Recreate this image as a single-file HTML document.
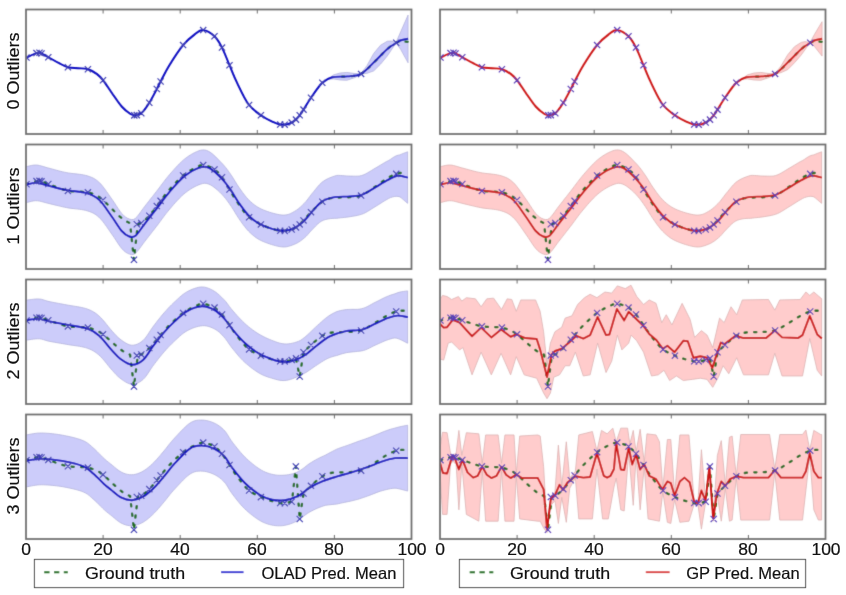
<!DOCTYPE html>
<html><head><meta charset="utf-8"><style>
html,body{margin:0;padding:0;background:#fff;}
body{width:846px;height:595px;position:relative;overflow:hidden;font-family:"Liberation Sans",sans-serif;color:#000;-webkit-text-stroke:0.2px #111;}
#wrap{position:absolute;left:0;top:0;width:846px;height:595px;filter:url(#bl);}
svg.ov{position:absolute;left:0;top:0;}
#txt{position:absolute;left:0;top:0;width:846px;height:595px;will-change:transform;color:#111;}
.yl{position:absolute;left:13.2px;font-size:16.5px;line-height:16px;white-space:nowrap;transform:translate(-50%,-50%) rotate(-90deg) scaleX(1.09);}
.tl{position:absolute;top:541.4px;font-size:16.5px;line-height:16px;transform:translateX(-50%) scaleX(1.06);}
.lg{position:absolute;top:559.1px;height:29px;border:1px solid #222;background:#fff;box-sizing:border-box;}
.lt{position:absolute;top:564.5px;font-size:16.5px;line-height:16px;white-space:nowrap;transform-origin:0 50%;transform:scaleX(1.105);}
</style></head><body>
<svg width="0" height="0" style="position:absolute"><filter id="bl" x="0" y="0" width="100%" height="100%"><feConvolveMatrix order="3" kernelMatrix="1 6 1 6 36 6 1 6 1" divisor="64" edgeMode="duplicate" preserveAlpha="false"/></filter></svg><div id="wrap"><svg class="ov" width="846" height="595" viewBox="0 0 846 595"><defs><clipPath id="c00"><rect x="26.00" y="9.50" width="385.50" height="124.50"/></clipPath><clipPath id="c01"><rect x="440.00" y="9.50" width="385.50" height="124.50"/></clipPath><clipPath id="c10"><rect x="26.00" y="144.50" width="385.50" height="124.50"/></clipPath><clipPath id="c11"><rect x="440.00" y="144.50" width="385.50" height="124.50"/></clipPath><clipPath id="c20"><rect x="26.00" y="279.50" width="385.50" height="124.50"/></clipPath><clipPath id="c21"><rect x="440.00" y="279.50" width="385.50" height="124.50"/></clipPath><clipPath id="c30"><rect x="26.00" y="414.50" width="385.50" height="124.50"/></clipPath><clipPath id="c31"><rect x="440.00" y="414.50" width="385.50" height="124.50"/></clipPath></defs><g clip-path="url(#c00)">
<path d="M328.07,79.18 L333.45,74.88 L340.17,73.00 L346.89,72.46 L354.96,73.54 L361.01,73.81 L367.06,65.47 L373.78,53.37 L380.50,45.30 L387.23,41.27 L391.26,41.00 L395.97,42.61 L400.67,31.86 L408.07,15.05 L408.07,62.78 L400.67,49.34 L395.97,42.88 L392.61,47.99 L387.23,56.06 L380.50,64.13 L373.78,70.85 L367.06,73.27 L361.01,74.08 L354.96,77.57 L346.89,80.26 L340.17,79.99 L333.45,78.92 L328.07,79.18Z" fill="#ccccfa" stroke="#b4b4dc" stroke-width="0.8"/>
<path d="M342.11,76.62 L345.96,76.52 L349.82,76.19 L353.68,75.94 L357.53,75.30 L361.38,73.73 L365.24,70.91 L369.09,67.26 L372.95,63.32 L376.81,59.53 L380.66,55.55 L384.51,51.58 L388.37,48.08 L392.23,45.12 L396.08,42.76 L399.94,41.46 L403.79,41.54 L407.64,41.79" fill="none" stroke="#1a6c1a" stroke-width="2.3" stroke-linecap="round" stroke-dasharray="2.2,7.3" />
<path d="M26.50,57.60C28.17,56.85 34.00,53.80 36.50,53.10C39.00,52.40 39.42,52.65 41.50,53.40C43.58,54.15 46.07,55.97 49.00,57.60C51.93,59.23 55.95,61.60 59.10,63.20C62.25,64.80 64.77,66.37 67.90,67.20C71.03,68.03 74.57,67.87 77.90,68.20C81.23,68.53 84.77,68.25 87.90,69.20C91.03,70.15 94.18,72.07 96.70,73.90C99.22,75.73 100.50,77.07 103.00,80.20C105.50,83.33 108.58,88.32 111.70,92.70C114.82,97.08 118.57,102.95 121.70,106.50C124.83,110.05 128.20,112.53 130.50,114.00C132.80,115.47 133.62,115.50 135.50,115.30C137.38,115.10 139.50,114.88 141.80,112.80C144.10,110.72 146.80,106.77 149.30,102.80C151.80,98.83 154.92,92.55 156.80,89.00C158.68,85.45 158.50,85.47 160.60,81.50C162.70,77.53 165.65,71.27 169.40,65.20C173.15,59.13 178.93,50.20 183.10,45.10C187.27,40.00 191.05,37.10 194.40,34.60C197.75,32.10 199.85,29.82 203.20,30.10C206.55,30.38 211.37,33.38 214.50,36.30C217.63,39.22 219.50,42.78 222.00,47.60C224.50,52.42 227.00,59.35 229.50,65.20C232.00,71.05 233.87,76.23 237.00,82.70C240.13,89.17 244.32,98.57 248.30,104.00C252.28,109.43 256.92,112.37 260.90,115.30C264.88,118.23 268.65,120.02 272.20,121.60C275.75,123.18 278.87,124.68 282.20,124.80C285.53,124.92 289.28,123.88 292.20,122.30C295.12,120.72 296.57,119.40 299.70,115.30C302.83,111.20 307.23,103.13 311.00,97.70C314.77,92.27 318.75,86.12 322.30,82.70C325.85,79.28 328.13,78.25 332.30,77.20C336.47,76.15 342.50,76.95 347.30,76.40C352.10,75.85 356.50,76.40 361.10,73.90C365.70,71.40 370.52,65.57 374.90,61.40C379.28,57.23 383.63,52.12 387.40,48.90C391.17,45.68 395.23,43.55 397.50,42.10C399.77,40.65 399.23,40.75 401.00,40.20C402.77,39.65 406.92,39.03 408.10,38.80" fill="none" stroke="#0808c0" stroke-width="1.95" stroke-linejoin="round"/>
<path d="M23.40,54.50L29.60,60.70M23.40,60.70L29.60,54.50M33.40,50.00L39.60,56.20M33.40,56.20L39.60,50.00M36.40,49.66L42.60,55.86M36.40,55.86L42.60,49.66M38.40,50.30L44.60,56.50M38.40,56.50L44.60,50.30M45.20,54.10L51.40,60.30M45.20,60.30L51.40,54.10M64.80,64.10L71.00,70.30M64.80,70.30L71.00,64.10M84.80,66.10L91.00,72.30M84.80,72.30L91.00,66.10M99.90,77.10L106.10,83.30M99.90,83.30L106.10,77.10M131.20,112.29L137.40,118.49M131.20,118.49L137.40,112.29M133.70,112.04L139.90,118.24M133.70,118.24L139.90,112.04M138.20,110.12L144.40,116.32M138.20,116.32L144.40,110.12M146.20,99.70L152.40,105.90M146.20,105.90L152.40,99.70M153.70,85.90L159.90,92.10M153.70,92.10L159.90,85.90M157.50,78.40L163.70,84.60M157.50,84.60L163.70,78.40M180.00,42.00L186.20,48.20M180.00,48.20L186.20,42.00M200.10,27.00L206.30,33.20M200.10,33.20L206.30,27.00M211.40,33.20L217.60,39.40M211.40,39.40L217.60,33.20M218.90,44.50L225.10,50.70M218.90,50.70L225.10,44.50M226.40,62.10L232.60,68.30M226.40,68.30L232.60,62.10M246.00,101.94L252.20,108.14M246.00,108.14L252.20,101.94M257.80,112.20L264.00,118.40M257.80,118.40L264.00,112.20M277.10,121.46L283.30,127.66M277.10,127.66L283.30,121.46M281.60,121.59L287.80,127.79M281.60,127.79L287.80,121.59M288.60,119.46L294.80,125.66M288.60,125.66L294.80,119.46M292.90,116.52L299.10,122.72M292.90,122.72L299.10,116.52M296.60,112.20L302.80,118.40M296.60,118.40L302.80,112.20M300.40,106.52L306.60,112.72M300.40,112.72L306.60,106.52M307.90,94.60L314.10,100.80M307.90,100.80L314.10,94.60M319.20,79.60L325.40,85.80M319.20,85.80L325.40,79.60M358.00,70.80L364.20,77.00M358.00,77.00L364.20,70.80M393.10,39.60L399.30,45.80M393.10,45.80L399.30,39.60" fill="none" stroke="#4040b4" stroke-width="1.2"/>
</g>
<rect x="26.00" y="9.50" width="385.50" height="124.50" fill="none" stroke="#6e6e6e" stroke-width="1.75"/>
<path d="M103.10,9.50L103.10,13.50M103.10,134.00L103.10,130.00M180.20,9.50L180.20,13.50M180.20,134.00L180.20,130.00M257.30,9.50L257.30,13.50M257.30,134.00L257.30,130.00M334.40,9.50L334.40,13.50M334.40,134.00L334.40,130.00" stroke="#6e6e6e" stroke-width="1" fill="none"/>
<g clip-path="url(#c01)">
<path d="M742.07,79.18 L747.45,74.88 L754.17,73.00 L760.89,72.46 L768.96,73.54 L775.01,73.81 L781.06,65.97 L787.78,54.68 L794.50,46.71 L801.23,42.38 L805.26,41.61 L809.97,42.61 L814.67,34.12 L822.07,21.71 L822.07,56.08 L814.67,46.70 L809.97,42.88 L806.61,47.43 L801.23,54.95 L794.50,62.71 L787.78,69.54 L781.06,72.60 L775.01,74.08 L768.96,77.57 L760.89,80.26 L754.17,79.99 L747.45,78.92 L742.07,79.18Z" fill="#ffcccc" stroke="#dcb4b4" stroke-width="0.8"/>
<path d="M756.11,76.62 L759.96,76.52 L763.82,76.19 L767.67,75.94 L771.53,75.30 L775.38,73.73 L779.24,70.91 L783.10,67.26 L786.95,63.32 L790.81,59.53 L794.66,55.55 L798.51,51.58 L802.37,48.08 L806.23,45.12 L810.08,42.76 L813.93,41.46 L817.79,41.54 L821.64,41.79" fill="none" stroke="#1a6c1a" stroke-width="2.3" stroke-linecap="round" stroke-dasharray="2.2,7.3" />
<path d="M440.50,57.60C442.17,56.85 448.00,53.80 450.50,53.10C453.00,52.40 453.42,52.65 455.50,53.40C457.58,54.15 460.07,55.97 463.00,57.60C465.93,59.23 469.95,61.60 473.10,63.20C476.25,64.80 478.77,66.37 481.90,67.20C485.03,68.03 488.57,67.87 491.90,68.20C495.23,68.53 498.77,68.25 501.90,69.20C505.03,70.15 508.18,72.07 510.70,73.90C513.22,75.73 514.50,77.07 517.00,80.20C519.50,83.33 522.58,88.32 525.70,92.70C528.82,97.08 532.57,102.95 535.70,106.50C538.83,110.05 542.20,112.53 544.50,114.00C546.80,115.47 547.62,115.50 549.50,115.30C551.38,115.10 553.50,114.88 555.80,112.80C558.10,110.72 560.80,106.77 563.30,102.80C565.80,98.83 568.92,92.55 570.80,89.00C572.68,85.45 572.50,85.47 574.60,81.50C576.70,77.53 579.65,71.27 583.40,65.20C587.15,59.13 592.93,50.20 597.10,45.10C601.27,40.00 605.05,37.10 608.40,34.60C611.75,32.10 613.85,29.82 617.20,30.10C620.55,30.38 625.37,33.38 628.50,36.30C631.63,39.22 633.50,42.78 636.00,47.60C638.50,52.42 641.00,59.35 643.50,65.20C646.00,71.05 647.87,76.23 651.00,82.70C654.13,89.17 658.32,98.57 662.30,104.00C666.28,109.43 670.92,112.37 674.90,115.30C678.88,118.23 682.65,120.02 686.20,121.60C689.75,123.18 692.87,124.68 696.20,124.80C699.53,124.92 703.28,123.88 706.20,122.30C709.12,120.72 710.57,119.40 713.70,115.30C716.83,111.20 721.23,103.13 725.00,97.70C728.77,92.27 732.75,86.12 736.30,82.70C739.85,79.28 742.13,78.25 746.30,77.20C750.47,76.15 756.50,76.95 761.30,76.40C766.10,75.85 770.50,76.40 775.10,73.90C779.70,71.40 784.52,65.57 788.90,61.40C793.28,57.23 797.63,52.12 801.40,48.90C805.17,45.68 809.23,43.55 811.50,42.10C813.77,40.65 813.23,40.75 815.00,40.20C816.77,39.65 820.92,39.03 822.10,38.80" fill="none" stroke="#cc1414" stroke-width="1.95" stroke-linejoin="round"/>
<path d="M437.40,54.50L443.60,60.70M437.40,60.70L443.60,54.50M447.40,50.00L453.60,56.20M447.40,56.20L453.60,50.00M450.40,49.66L456.60,55.86M450.40,55.86L456.60,49.66M452.40,50.30L458.60,56.50M452.40,56.50L458.60,50.30M459.20,54.10L465.40,60.30M459.20,60.30L465.40,54.10M478.80,64.10L485.00,70.30M478.80,70.30L485.00,64.10M498.80,66.10L505.00,72.30M498.80,72.30L505.00,66.10M513.90,77.10L520.10,83.30M513.90,83.30L520.10,77.10M545.20,112.29L551.40,118.49M545.20,118.49L551.40,112.29M547.70,112.04L553.90,118.24M547.70,118.24L553.90,112.04M552.20,110.12L558.40,116.32M552.20,116.32L558.40,110.12M560.20,99.70L566.40,105.90M560.20,105.90L566.40,99.70M567.70,85.90L573.90,92.10M567.70,92.10L573.90,85.90M571.50,78.40L577.70,84.60M571.50,84.60L577.70,78.40M594.00,42.00L600.20,48.20M594.00,48.20L600.20,42.00M614.10,27.00L620.30,33.20M614.10,33.20L620.30,27.00M625.40,33.20L631.60,39.40M625.40,39.40L631.60,33.20M632.90,44.50L639.10,50.70M632.90,50.70L639.10,44.50M640.40,62.10L646.60,68.30M640.40,68.30L646.60,62.10M660.00,101.94L666.20,108.14M660.00,108.14L666.20,101.94M671.80,112.20L678.00,118.40M671.80,118.40L678.00,112.20M691.10,121.46L697.30,127.66M691.10,127.66L697.30,121.46M695.60,121.59L701.80,127.79M695.60,127.79L701.80,121.59M702.60,119.46L708.80,125.66M702.60,125.66L708.80,119.46M706.90,116.52L713.10,122.72M706.90,122.72L713.10,116.52M710.60,112.20L716.80,118.40M710.60,118.40L716.80,112.20M714.40,106.52L720.60,112.72M714.40,112.72L720.60,106.52M721.90,94.60L728.10,100.80M721.90,100.80L728.10,94.60M733.20,79.60L739.40,85.80M733.20,85.80L739.40,79.60M772.00,70.80L778.20,77.00M772.00,77.00L778.20,70.80M807.10,39.60L813.30,45.80M807.10,45.80L813.30,39.60" fill="none" stroke="#5a40b8" stroke-width="1.2"/>
</g>
<rect x="440.00" y="9.50" width="385.50" height="124.50" fill="none" stroke="#6e6e6e" stroke-width="1.75"/>
<path d="M517.10,9.50L517.10,13.50M517.10,134.00L517.10,130.00M594.20,9.50L594.20,13.50M594.20,134.00L594.20,130.00M671.30,9.50L671.30,13.50M671.30,134.00L671.30,130.00M748.40,9.50L748.40,13.50M748.40,134.00L748.40,130.00" stroke="#6e6e6e" stroke-width="1" fill="none"/>
<g clip-path="url(#c10)">
<path d="M26.00,166.62 L27.92,166.31 L29.84,165.84 L31.75,165.42 L33.67,165.12 L35.59,165.00 L37.51,165.12 L39.42,165.47 L41.34,165.95 L43.26,166.52 L45.18,167.11 L47.10,167.68 L49.01,168.20 L50.93,168.71 L52.85,169.23 L54.77,169.76 L56.69,170.28 L58.60,170.80 L60.52,171.30 L62.44,171.75 L64.36,172.17 L66.27,172.57 L68.19,172.92 L70.11,173.20 L72.03,173.44 L73.95,173.66 L75.86,173.87 L77.78,174.08 L79.70,174.32 L81.62,174.59 L83.53,174.91 L85.45,175.32 L87.37,175.86 L89.29,176.48 L91.21,177.19 L93.12,178.05 L95.04,179.14 L96.96,180.50 L98.88,182.13 L100.79,184.06 L102.71,186.33 L104.63,188.84 L106.55,191.53 L108.47,194.30 L110.38,197.07 L112.30,199.77 L114.22,202.58 L116.14,205.51 L118.06,208.45 L119.97,211.23 L121.89,213.65 L123.81,215.63 L125.73,217.19 L127.64,218.33 L129.56,219.11 L131.48,219.62 L133.40,219.48 L135.32,218.41 L137.23,216.54 L139.15,214.08 L141.07,211.39 L142.99,208.72 L144.90,206.20 L146.82,203.75 L148.74,201.30 L150.66,198.86 L152.58,196.42 L154.49,193.99 L156.41,191.54 L158.33,189.06 L160.25,186.51 L162.16,183.94 L164.08,181.39 L166.00,178.92 L167.92,176.55 L169.84,174.29 L171.75,172.08 L173.67,169.91 L175.59,167.78 L177.51,165.72 L179.43,163.74 L181.34,161.88 L183.26,160.15 L185.18,158.59 L187.10,157.16 L189.01,155.85 L190.93,154.63 L192.85,153.53 L194.77,152.52 L196.69,151.63 L198.60,150.87 L200.52,150.28 L202.44,149.96 L204.36,149.94 L206.27,150.32 L208.19,151.11 L210.11,152.20 L212.03,153.60 L213.95,155.24 L215.86,157.04 L217.78,158.97 L219.70,161.00 L221.62,162.96 L223.53,165.00 L225.45,167.26 L227.37,169.75 L229.29,172.42 L231.21,175.16 L233.12,178.10 L235.04,181.24 L236.96,184.36 L238.88,187.29 L240.80,190.00 L242.71,192.65 L244.63,195.19 L246.55,197.53 L248.47,199.63 L250.38,201.48 L252.30,203.19 L254.22,204.75 L256.14,206.14 L258.06,207.35 L259.97,208.40 L261.89,209.32 L263.81,210.13 L265.73,210.87 L267.64,211.55 L269.56,212.19 L271.48,212.79 L273.40,213.33 L275.32,213.83 L277.23,214.28 L279.15,214.66 L281.07,214.93 L282.99,215.08 L284.90,215.04 L286.82,214.78 L288.74,214.30 L290.66,213.54 L292.58,212.52 L294.49,211.42 L296.41,210.23 L298.33,208.82 L300.25,207.20 L302.17,205.41 L304.08,203.51 L306.00,201.47 L307.92,199.05 L309.84,196.44 L311.75,193.98 L313.67,191.68 L315.59,189.30 L317.51,186.93 L319.43,184.74 L321.34,182.87 L323.26,181.36 L325.18,180.11 L327.10,179.05 L329.01,178.15 L330.93,177.36 L332.85,176.65 L334.77,175.99 L336.69,175.44 L338.60,175.38 L340.52,175.48 L342.44,175.62 L344.36,175.78 L346.27,175.92 L348.19,176.03 L350.11,176.08 L352.03,176.11 L353.95,176.15 L355.86,176.18 L357.78,176.13 L359.70,175.97 L361.62,175.51 L363.54,174.85 L365.45,173.98 L367.37,172.95 L369.29,171.83 L371.21,170.65 L373.12,169.48 L375.04,168.35 L376.96,167.23 L378.88,166.08 L380.80,164.91 L382.71,163.75 L384.63,162.62 L386.55,161.54 L388.47,160.55 L390.38,159.46 L392.30,158.08 L394.22,156.85 L396.14,155.87 L398.06,155.20 L399.97,154.89 L401.89,154.00 L403.81,153.22 L405.73,152.53 L407.64,151.81 L407.64,203.36 L405.73,201.69 L403.81,199.99 L401.89,198.36 L399.97,196.88 L398.06,196.42 L396.14,196.33 L394.22,196.54 L392.30,197.01 L390.38,197.61 L388.47,198.59 L386.55,199.64 L384.63,200.76 L382.71,201.94 L380.80,203.16 L378.88,204.38 L376.96,205.58 L375.04,206.75 L373.12,207.93 L371.21,209.15 L369.29,210.38 L367.37,211.55 L365.45,212.63 L363.54,213.55 L361.62,214.27 L359.70,214.82 L357.78,215.34 L355.86,215.73 L353.95,216.06 L352.03,216.36 L350.11,216.68 L348.19,216.99 L346.27,217.23 L344.36,217.43 L342.44,217.63 L340.52,217.84 L338.60,218.09 L336.69,218.35 L334.77,218.33 L332.85,218.42 L330.93,218.57 L329.01,218.79 L327.10,219.13 L325.18,219.62 L323.26,220.30 L321.34,221.24 L319.43,222.55 L317.51,224.18 L315.59,226.03 L313.67,228.05 L311.75,230.00 L309.84,232.10 L307.92,234.36 L306.00,236.42 L304.08,238.11 L302.17,239.66 L300.25,241.09 L298.33,242.35 L296.41,243.41 L294.49,244.25 L292.58,244.99 L290.66,245.66 L288.74,246.28 L286.82,246.74 L284.90,246.97 L282.99,246.98 L281.07,246.81 L279.15,246.50 L277.23,246.10 L275.32,245.62 L273.40,245.10 L271.48,244.52 L269.56,243.90 L267.64,243.23 L265.73,242.52 L263.81,241.75 L261.89,240.92 L259.97,239.97 L258.06,238.89 L256.14,237.66 L254.22,236.24 L252.30,234.65 L250.38,232.91 L248.47,231.04 L246.55,228.91 L244.63,226.54 L242.71,223.98 L240.80,221.29 L238.88,218.56 L236.96,215.60 L235.04,212.45 L233.12,209.29 L231.21,206.32 L229.29,203.55 L227.37,200.86 L225.45,198.34 L223.53,196.05 L221.62,193.98 L219.70,192.04 L217.78,190.31 L215.86,188.66 L213.95,187.14 L212.03,185.79 L210.11,184.68 L208.19,183.89 L206.27,183.38 L204.36,183.28 L202.44,183.60 L200.52,184.20 L198.60,184.89 L196.69,185.70 L194.77,186.63 L192.85,187.68 L190.93,188.82 L189.01,190.07 L187.10,191.41 L185.18,192.89 L183.26,194.49 L181.34,196.26 L179.43,198.15 L177.51,200.17 L175.59,202.27 L173.67,204.44 L171.75,206.65 L169.84,208.89 L167.92,211.19 L166.00,213.60 L164.08,216.11 L162.16,218.70 L160.25,221.30 L158.33,223.89 L156.41,226.41 L154.49,228.90 L152.58,231.37 L150.66,233.84 L148.74,236.30 L146.82,238.75 L144.90,241.20 L142.99,243.72 L141.07,246.39 L139.15,249.08 L137.23,251.54 L135.32,253.41 L133.40,254.48 L131.48,254.62 L129.56,254.11 L127.64,253.33 L125.73,252.19 L123.81,250.63 L121.89,248.65 L119.97,246.23 L118.06,243.45 L116.14,240.51 L114.22,237.58 L112.30,234.77 L110.38,232.07 L108.47,229.30 L106.55,226.53 L104.63,223.84 L102.71,221.33 L100.79,219.06 L98.88,217.13 L96.96,215.50 L95.04,214.14 L93.12,213.05 L91.21,212.19 L89.29,211.48 L87.37,210.86 L85.45,210.32 L83.53,209.91 L81.62,209.59 L79.70,209.32 L77.78,209.08 L75.86,208.87 L73.95,208.66 L72.03,208.44 L70.11,208.20 L68.19,207.92 L66.27,207.57 L64.36,207.17 L62.44,206.75 L60.52,206.30 L58.60,205.84 L56.69,205.38 L54.77,204.91 L52.85,204.44 L50.93,203.98 L49.01,203.53 L47.10,203.06 L45.18,202.54 L43.26,202.01 L41.34,201.50 L39.42,201.07 L37.51,200.79 L35.59,200.71 L33.67,200.90 L31.75,201.25 L29.84,201.72 L27.92,202.26 L26.00,202.62Z" fill="#ccccfa" stroke="#b4b4dc" stroke-width="0.8"/>
<path d="M26.00,184.24 L29.86,183.11 L33.71,181.85 L37.56,180.92 L41.42,181.29 L45.27,182.69 L49.13,184.29 L52.98,185.81 L56.84,187.30 L60.70,188.71 L64.55,190.07 L68.41,191.00 L72.26,191.37 L76.12,191.52 L79.97,191.71 L83.83,191.84 L87.68,192.27 L91.53,193.35 L95.39,194.94 L99.25,197.03 L103.10,200.06 L106.95,203.82 L110.81,207.78 L114.67,211.64 L118.52,215.47 L122.38,218.79 L126.23,221.32 L130.08,223.30 L133.94,259.80 L137.80,224.15 L141.65,222.75 L145.50,219.64 L149.36,215.63 L153.22,210.87 L157.07,205.73 L160.93,200.44 L164.78,195.22 L168.63,190.41 L172.49,186.11 L176.34,182.02 L180.20,178.18 L184.06,174.75 L187.91,171.94 L191.76,169.63 L195.62,167.58 L199.47,165.67 L203.33,165.11 L207.19,165.94 L211.04,167.49 L214.90,169.68 L218.75,173.15 L222.60,178.12 L226.46,184.35 L230.31,190.88 L234.17,197.37 L238.03,203.19 L241.88,208.76 L245.73,213.77 L249.59,217.67 L253.44,220.43 L257.30,222.58 L261.15,224.52 L265.01,226.28 L268.87,227.71 L272.72,228.94 L276.57,230.09 L280.43,230.88 L284.29,230.96 L288.14,230.43 L292.00,229.34 L295.85,227.50 L299.70,224.39 L303.56,220.37 L307.42,216.01 L311.27,211.87 L315.12,207.98 L318.98,204.32 L322.83,201.36 L326.69,199.33 L330.55,198.21 L334.40,197.62 L338.25,197.48 L342.11,197.47 L345.96,197.40 L349.82,197.18 L353.68,197.00 L357.53,196.56 L361.38,195.46 L365.24,193.50 L369.09,190.96 L372.95,188.22 L376.81,185.58 L380.66,182.81 L384.51,180.05 L388.37,177.61 L392.23,175.55 L396.08,173.91 L399.94,173.00 L403.79,173.06 L407.64,173.23" fill="none" stroke="#1a6c1a" stroke-width="2.3" stroke-linecap="round" stroke-dasharray="2.2,7.3" />
<path d="M26.51,184.62C28.18,184.33 32.77,182.66 36.53,182.87C40.29,183.08 44.05,184.67 49.06,185.88C54.08,187.09 60.34,188.93 66.61,190.14C72.87,191.35 81.23,191.52 86.66,193.15C92.09,194.77 95.01,196.03 99.19,199.91C103.37,203.80 107.96,211.27 111.72,216.45C115.48,221.63 118.82,227.65 121.74,230.99C124.67,234.33 126.97,235.71 129.26,236.50C131.56,237.30 133.02,237.76 135.53,235.75C138.04,233.75 140.75,229.03 144.30,224.47C147.85,219.92 152.65,213.82 156.83,208.43C161.01,203.05 164.77,197.49 169.36,192.14C173.96,186.80 179.39,180.45 184.40,176.35C189.41,172.26 195.26,168.96 199.44,167.58C203.62,166.20 205.70,166.20 209.46,168.08C213.22,169.96 218.44,175.18 221.99,178.86C225.55,182.54 227.87,185.96 230.80,190.14C233.73,194.31 236.44,199.54 239.57,203.92C242.70,208.31 245.83,212.90 249.59,216.45C253.35,220.00 256.70,222.80 262.13,225.23C267.56,227.65 276.75,230.57 282.18,230.99C287.61,231.41 290.95,229.53 294.71,227.73C298.47,225.94 301.81,222.93 304.73,220.21C307.66,217.50 309.33,214.57 312.25,211.44C315.17,208.31 318.52,203.80 322.28,201.42C326.04,199.04 330.21,197.99 334.81,197.16C339.40,196.32 345.25,196.82 349.84,196.40C354.44,195.99 358.20,196.11 362.38,194.65C366.55,193.19 370.73,190.05 374.91,187.63C379.08,185.21 383.68,182.08 387.44,180.11C391.20,178.15 394.08,176.27 397.46,175.85C400.85,175.43 406.03,177.31 407.74,177.61" fill="none" stroke="#0808c0" stroke-width="1.95" stroke-linejoin="round"/>
<path d="M23.40,181.14L29.60,187.34M23.40,187.34L29.60,181.14M33.40,178.01L39.60,184.21M33.40,184.21L39.60,178.01M36.40,177.77L42.60,183.97M36.40,183.97L42.60,177.77M38.40,178.21L44.60,184.41M38.40,184.41L44.60,178.21M45.20,180.86L51.40,187.06M45.20,187.06L51.40,180.86M64.80,187.82L71.00,194.02M64.80,194.02L71.00,187.82M84.80,189.21L91.00,195.41M84.80,195.41L91.00,189.21M99.90,196.87L106.10,203.07M99.90,203.07L106.10,196.87M133.70,221.19L139.90,227.39M133.70,227.39L139.90,221.19M138.20,219.85L144.40,226.05M138.20,226.05L144.40,219.85M146.20,212.60L152.40,218.80M146.20,218.80L152.40,212.60M153.70,202.99L159.90,209.19M153.70,209.19L159.90,202.99M157.50,197.77L163.70,203.97M157.50,203.97L163.70,197.77M180.00,172.44L186.20,178.64M180.00,178.64L186.20,172.44M200.10,162.00L206.30,168.20M200.10,168.20L206.30,162.00M211.40,166.31L217.60,172.51M211.40,172.51L217.60,166.31M218.90,174.18L225.10,180.38M218.90,180.38L225.10,174.18M226.40,186.43L232.60,192.63M226.40,192.63L232.60,186.43M246.00,214.15L252.20,220.35M246.00,220.35L252.20,214.15M257.80,221.30L264.00,227.50M257.80,227.50L264.00,221.30M277.10,227.75L283.30,233.95M277.10,233.95L283.30,227.75M281.60,227.83L287.80,234.03M281.60,234.03L287.80,227.83M288.60,226.35L294.80,232.55M288.60,232.55L294.80,226.35M292.90,224.30L299.10,230.50M292.90,230.50L299.10,224.30M296.60,221.30L302.80,227.50M296.60,227.50L302.80,221.30M300.40,217.34L306.60,223.54M300.40,223.54L306.60,217.34M307.90,209.05L314.10,215.25M307.90,215.25L314.10,209.05M319.20,198.61L325.40,204.81M319.20,204.81L325.40,198.61M358.00,192.48L364.20,198.68M358.00,198.68L364.20,192.48M393.10,170.77L399.30,176.97M393.10,176.97L399.30,170.77M130.84,256.70L137.04,262.90M130.84,262.90L137.04,256.70" fill="none" stroke="#4040b4" stroke-width="1.2"/>
</g>
<rect x="26.00" y="144.50" width="385.50" height="124.50" fill="none" stroke="#6e6e6e" stroke-width="1.75"/>
<path d="M103.10,144.50L103.10,148.50M103.10,269.00L103.10,265.00M180.20,144.50L180.20,148.50M180.20,269.00L180.20,265.00M257.30,144.50L257.30,148.50M257.30,269.00L257.30,265.00M334.40,144.50L334.40,148.50M334.40,269.00L334.40,265.00" stroke="#6e6e6e" stroke-width="1" fill="none"/>
<g clip-path="url(#c11)">
<path d="M440.00,166.62 L441.92,166.31 L443.84,165.84 L445.75,165.42 L447.67,165.12 L449.59,165.00 L451.51,165.12 L453.42,165.47 L455.34,165.95 L457.26,166.52 L459.18,167.11 L461.10,167.68 L463.01,168.20 L464.93,168.71 L466.85,169.23 L468.77,169.76 L470.69,170.28 L472.60,170.80 L474.52,171.30 L476.44,171.75 L478.36,172.17 L480.27,172.57 L482.19,172.92 L484.11,173.20 L486.03,173.44 L487.95,173.66 L489.86,173.87 L491.78,174.08 L493.70,174.32 L495.62,174.59 L497.53,174.91 L499.45,175.32 L501.37,175.86 L503.29,176.48 L505.21,177.19 L507.12,178.05 L509.04,179.14 L510.96,180.50 L512.88,182.13 L514.79,184.06 L516.71,186.33 L518.63,188.84 L520.55,191.53 L522.47,194.30 L524.38,197.07 L526.30,199.77 L528.22,202.58 L530.14,205.51 L532.06,208.45 L533.97,211.23 L535.89,213.65 L537.81,215.63 L539.73,217.19 L541.64,218.33 L543.56,219.11 L545.48,219.62 L547.40,219.48 L549.32,218.41 L551.23,216.54 L553.15,214.08 L555.07,211.39 L556.99,208.72 L558.90,206.20 L560.82,203.75 L562.74,201.30 L564.66,198.86 L566.58,196.42 L568.49,193.99 L570.41,191.54 L572.33,189.06 L574.25,186.51 L576.16,183.94 L578.08,181.39 L580.00,178.92 L581.92,176.55 L583.84,174.29 L585.75,172.08 L587.67,169.91 L589.59,167.78 L591.51,165.72 L593.43,163.74 L595.34,161.88 L597.26,160.15 L599.18,158.59 L601.10,157.16 L603.01,155.85 L604.93,154.63 L606.85,153.53 L608.77,152.52 L610.69,151.63 L612.60,150.87 L614.52,150.28 L616.44,149.96 L618.36,149.94 L620.27,150.32 L622.19,151.11 L624.11,152.20 L626.03,153.60 L627.95,155.24 L629.86,157.04 L631.78,158.97 L633.70,161.00 L635.62,162.96 L637.53,165.00 L639.45,167.26 L641.37,169.75 L643.29,172.42 L645.21,175.16 L647.12,178.10 L649.04,181.24 L650.96,184.36 L652.88,187.29 L654.80,190.00 L656.71,192.65 L658.63,195.19 L660.55,197.53 L662.47,199.63 L664.38,201.48 L666.30,203.19 L668.22,204.75 L670.14,206.14 L672.06,207.35 L673.97,208.40 L675.89,209.32 L677.81,210.13 L679.73,210.87 L681.64,211.55 L683.56,212.19 L685.48,212.79 L687.40,213.33 L689.32,213.83 L691.23,214.28 L693.15,214.66 L695.07,214.93 L696.99,215.08 L698.90,215.04 L700.82,214.78 L702.74,214.30 L704.66,213.54 L706.58,212.52 L708.49,211.42 L710.41,210.23 L712.33,208.82 L714.25,207.20 L716.17,205.41 L718.08,203.51 L720.00,201.47 L721.92,199.05 L723.84,196.44 L725.75,193.98 L727.67,191.68 L729.59,189.30 L731.51,186.93 L733.43,184.74 L735.34,182.87 L737.26,181.36 L739.18,180.11 L741.10,179.05 L743.01,178.15 L744.93,177.36 L746.85,176.65 L748.77,175.99 L750.69,175.44 L752.60,175.38 L754.52,175.48 L756.44,175.62 L758.36,175.78 L760.27,175.92 L762.19,176.03 L764.11,176.08 L766.03,176.11 L767.95,176.15 L769.86,176.18 L771.78,176.13 L773.70,175.97 L775.62,175.51 L777.54,174.85 L779.45,173.98 L781.37,172.95 L783.29,171.83 L785.21,170.65 L787.12,169.48 L789.04,168.35 L790.96,167.23 L792.88,166.08 L794.80,164.91 L796.71,163.75 L798.63,162.62 L800.55,161.54 L802.47,160.55 L804.38,159.46 L806.30,158.08 L808.22,156.85 L810.14,155.87 L812.06,155.20 L813.97,154.89 L815.89,154.00 L817.81,153.22 L819.73,152.53 L821.64,151.81 L821.64,203.36 L819.73,201.69 L817.81,199.99 L815.89,198.36 L813.97,196.88 L812.06,196.42 L810.14,196.33 L808.22,196.54 L806.30,197.01 L804.38,197.61 L802.47,198.59 L800.55,199.64 L798.63,200.76 L796.71,201.94 L794.80,203.16 L792.88,204.38 L790.96,205.58 L789.04,206.75 L787.12,207.93 L785.21,209.15 L783.29,210.38 L781.37,211.55 L779.45,212.63 L777.54,213.55 L775.62,214.27 L773.70,214.82 L771.78,215.34 L769.86,215.73 L767.95,216.06 L766.03,216.36 L764.11,216.68 L762.19,216.99 L760.27,217.23 L758.36,217.43 L756.44,217.63 L754.52,217.84 L752.60,218.09 L750.69,218.35 L748.77,218.33 L746.85,218.42 L744.93,218.57 L743.01,218.79 L741.10,219.13 L739.18,219.62 L737.26,220.30 L735.34,221.24 L733.43,222.55 L731.51,224.18 L729.59,226.03 L727.67,228.05 L725.75,230.00 L723.84,232.10 L721.92,234.36 L720.00,236.42 L718.08,238.11 L716.17,239.66 L714.25,241.09 L712.33,242.35 L710.41,243.41 L708.49,244.25 L706.58,244.99 L704.66,245.66 L702.74,246.28 L700.82,246.74 L698.90,246.97 L696.99,246.98 L695.07,246.81 L693.15,246.50 L691.23,246.10 L689.32,245.62 L687.40,245.10 L685.48,244.52 L683.56,243.90 L681.64,243.23 L679.73,242.52 L677.81,241.75 L675.89,240.92 L673.97,239.97 L672.06,238.89 L670.14,237.66 L668.22,236.24 L666.30,234.65 L664.38,232.91 L662.47,231.04 L660.55,228.91 L658.63,226.54 L656.71,223.98 L654.80,221.29 L652.88,218.56 L650.96,215.60 L649.04,212.45 L647.12,209.29 L645.21,206.32 L643.29,203.55 L641.37,200.86 L639.45,198.34 L637.53,196.05 L635.62,193.98 L633.70,192.04 L631.78,190.31 L629.86,188.66 L627.95,187.14 L626.03,185.79 L624.11,184.68 L622.19,183.89 L620.27,183.38 L618.36,183.28 L616.44,183.60 L614.52,184.20 L612.60,184.89 L610.69,185.70 L608.77,186.63 L606.85,187.68 L604.93,188.82 L603.01,190.07 L601.10,191.41 L599.18,192.89 L597.26,194.49 L595.34,196.26 L593.43,198.15 L591.51,200.17 L589.59,202.27 L587.67,204.44 L585.75,206.65 L583.84,208.89 L581.92,211.19 L580.00,213.60 L578.08,216.11 L576.16,218.70 L574.25,221.30 L572.33,223.89 L570.41,226.41 L568.49,228.90 L566.58,231.37 L564.66,233.84 L562.74,236.30 L560.82,238.75 L558.90,241.20 L556.99,243.72 L555.07,246.39 L553.15,249.08 L551.23,251.54 L549.32,253.41 L547.40,254.48 L545.48,254.62 L543.56,254.11 L541.64,253.33 L539.73,252.19 L537.81,250.63 L535.89,248.65 L533.97,246.23 L532.06,243.45 L530.14,240.51 L528.22,237.58 L526.30,234.77 L524.38,232.07 L522.47,229.30 L520.55,226.53 L518.63,223.84 L516.71,221.33 L514.79,219.06 L512.88,217.13 L510.96,215.50 L509.04,214.14 L507.12,213.05 L505.21,212.19 L503.29,211.48 L501.37,210.86 L499.45,210.32 L497.53,209.91 L495.62,209.59 L493.70,209.32 L491.78,209.08 L489.86,208.87 L487.95,208.66 L486.03,208.44 L484.11,208.20 L482.19,207.92 L480.27,207.57 L478.36,207.17 L476.44,206.75 L474.52,206.30 L472.60,205.84 L470.69,205.38 L468.77,204.91 L466.85,204.44 L464.93,203.98 L463.01,203.53 L461.10,203.06 L459.18,202.54 L457.26,202.01 L455.34,201.50 L453.42,201.07 L451.51,200.79 L449.59,200.71 L447.67,200.90 L445.75,201.25 L443.84,201.72 L441.92,202.26 L440.00,202.62Z" fill="#ffcccc" stroke="#dcb4b4" stroke-width="0.8"/>
<path d="M440.00,184.24 L443.86,183.11 L447.71,181.85 L451.56,180.92 L455.42,181.29 L459.27,182.69 L463.13,184.29 L466.99,185.81 L470.84,187.30 L474.69,188.71 L478.55,190.07 L482.40,191.00 L486.26,191.37 L490.12,191.52 L493.97,191.71 L497.82,191.84 L501.68,192.27 L505.53,193.35 L509.39,194.94 L513.25,197.03 L517.10,200.06 L520.96,203.82 L524.81,207.78 L528.66,211.64 L532.52,215.47 L536.38,218.79 L540.23,221.32 L544.09,223.30 L547.94,259.80 L551.79,224.15 L555.65,222.75 L559.50,219.64 L563.36,215.63 L567.22,210.87 L571.07,205.73 L574.92,200.44 L578.78,195.22 L582.63,190.41 L586.49,186.11 L590.35,182.02 L594.20,178.18 L598.06,174.75 L601.91,171.94 L605.76,169.63 L609.62,167.58 L613.48,165.67 L617.33,165.11 L621.18,165.94 L625.04,167.49 L628.89,169.68 L632.75,173.15 L636.61,178.12 L640.46,184.35 L644.32,190.88 L648.17,197.37 L652.02,203.19 L655.88,208.76 L659.74,213.77 L663.59,217.67 L667.44,220.43 L671.30,222.58 L675.15,224.52 L679.01,226.28 L682.87,227.71 L686.72,228.94 L690.58,230.09 L694.43,230.88 L698.29,230.96 L702.14,230.43 L706.00,229.34 L709.85,227.50 L713.70,224.39 L717.56,220.37 L721.41,216.01 L725.27,211.87 L729.12,207.98 L732.98,204.32 L736.84,201.36 L740.69,199.33 L744.55,198.21 L748.40,197.62 L752.25,197.48 L756.11,197.47 L759.96,197.40 L763.82,197.18 L767.67,197.00 L771.53,196.56 L775.38,195.46 L779.24,193.50 L783.10,190.96 L786.95,188.22 L790.81,185.58 L794.66,182.81 L798.51,180.05 L802.37,177.61 L806.23,175.55 L810.08,173.91 L813.93,173.00 L817.79,173.06 L821.64,173.23" fill="none" stroke="#1a6c1a" stroke-width="2.3" stroke-linecap="round" stroke-dasharray="2.2,7.3" />
<path d="M440.51,184.62C442.18,184.33 446.77,182.66 450.53,182.87C454.29,183.08 458.05,184.67 463.06,185.88C468.08,187.09 474.34,188.93 480.61,190.14C486.87,191.35 495.23,191.52 500.66,193.15C506.09,194.77 509.01,196.03 513.19,199.91C517.37,203.80 521.96,211.27 525.72,216.45C529.48,221.63 532.82,227.65 535.74,230.99C538.67,234.33 540.97,235.71 543.26,236.50C545.56,237.30 547.02,237.76 549.53,235.75C552.04,233.75 554.75,229.03 558.30,224.47C561.85,219.92 566.65,213.82 570.83,208.43C575.01,203.05 578.77,197.49 583.36,192.14C587.96,186.80 593.39,180.45 598.40,176.35C603.41,172.26 609.26,168.96 613.44,167.58C617.62,166.20 619.70,166.20 623.46,168.08C627.22,169.96 632.44,175.18 635.99,178.86C639.55,182.54 641.87,185.96 644.80,190.14C647.73,194.31 650.44,199.54 653.57,203.92C656.70,208.31 659.83,212.90 663.59,216.45C667.35,220.00 670.70,222.80 676.13,225.23C681.56,227.65 690.75,230.57 696.18,230.99C701.61,231.41 704.95,229.53 708.71,227.73C712.47,225.94 715.81,222.93 718.73,220.21C721.66,217.50 723.33,214.57 726.25,211.44C729.17,208.31 732.52,203.80 736.28,201.42C740.04,199.04 744.21,197.99 748.81,197.16C753.40,196.32 759.25,196.82 763.84,196.40C768.44,195.99 772.20,196.11 776.38,194.65C780.55,193.19 784.73,190.05 788.91,187.63C793.08,185.21 797.68,182.08 801.44,180.11C805.20,178.15 808.08,176.27 811.46,175.85C814.85,175.43 820.03,177.31 821.74,177.61" fill="none" stroke="#cc1414" stroke-width="1.95" stroke-linejoin="round"/>
<path d="M437.40,181.14L443.60,187.34M437.40,187.34L443.60,181.14M447.40,178.01L453.60,184.21M447.40,184.21L453.60,178.01M450.40,177.77L456.60,183.97M450.40,183.97L456.60,177.77M452.40,178.21L458.60,184.41M452.40,184.41L458.60,178.21M459.20,180.86L465.40,187.06M459.20,187.06L465.40,180.86M478.80,187.82L485.00,194.02M478.80,194.02L485.00,187.82M498.80,189.21L505.00,195.41M498.80,195.41L505.00,189.21M513.90,196.87L520.10,203.07M513.90,203.07L520.10,196.87M547.70,221.19L553.90,227.39M547.70,227.39L553.90,221.19M552.20,219.85L558.40,226.05M552.20,226.05L558.40,219.85M560.20,212.60L566.40,218.80M560.20,218.80L566.40,212.60M567.70,202.99L573.90,209.19M567.70,209.19L573.90,202.99M571.50,197.77L577.70,203.97M571.50,203.97L577.70,197.77M594.00,172.44L600.20,178.64M594.00,178.64L600.20,172.44M614.10,162.00L620.30,168.20M614.10,168.20L620.30,162.00M625.40,166.31L631.60,172.51M625.40,172.51L631.60,166.31M632.90,174.18L639.10,180.38M632.90,180.38L639.10,174.18M640.40,186.43L646.60,192.63M640.40,192.63L646.60,186.43M660.00,214.15L666.20,220.35M660.00,220.35L666.20,214.15M671.80,221.30L678.00,227.50M671.80,227.50L678.00,221.30M691.10,227.75L697.30,233.95M691.10,233.95L697.30,227.75M695.60,227.83L701.80,234.03M695.60,234.03L701.80,227.83M702.60,226.35L708.80,232.55M702.60,232.55L708.80,226.35M706.90,224.30L713.10,230.50M706.90,230.50L713.10,224.30M710.60,221.30L716.80,227.50M710.60,227.50L716.80,221.30M714.40,217.34L720.60,223.54M714.40,223.54L720.60,217.34M721.90,209.05L728.10,215.25M721.90,215.25L728.10,209.05M733.20,198.61L739.40,204.81M733.20,204.81L739.40,198.61M772.00,192.48L778.20,198.68M772.00,198.68L778.20,192.48M807.10,170.77L813.30,176.97M807.10,176.97L813.30,170.77M544.84,256.70L551.04,262.90M544.84,262.90L551.04,256.70" fill="none" stroke="#5a40b8" stroke-width="1.2"/>
</g>
<rect x="440.00" y="144.50" width="385.50" height="124.50" fill="none" stroke="#6e6e6e" stroke-width="1.75"/>
<path d="M517.10,144.50L517.10,148.50M517.10,269.00L517.10,265.00M594.20,144.50L594.20,148.50M594.20,269.00L594.20,265.00M671.30,144.50L671.30,148.50M671.30,269.00L671.30,265.00M748.40,144.50L748.40,148.50M748.40,269.00L748.40,265.00" stroke="#6e6e6e" stroke-width="1" fill="none"/>
<g clip-path="url(#c20)">
<path d="M26.00,300.13 L27.92,299.96 L29.84,299.69 L31.75,299.43 L33.67,299.21 L35.59,299.03 L37.51,298.94 L39.42,299.00 L41.34,299.28 L43.26,299.81 L45.18,300.45 L47.10,301.05 L49.01,301.52 L50.93,301.92 L52.85,302.31 L54.77,302.68 L56.69,303.04 L58.60,303.40 L60.52,303.76 L62.44,304.12 L64.36,304.48 L66.27,304.85 L68.19,305.20 L70.11,305.53 L72.03,305.83 L73.95,306.13 L75.86,306.44 L77.78,306.75 L79.70,307.10 L81.62,307.47 L83.53,307.91 L85.45,308.43 L87.37,309.06 L89.29,309.79 L91.21,310.65 L93.12,311.66 L95.04,312.87 L96.96,314.30 L98.88,315.89 L100.79,317.70 L102.71,319.77 L104.63,322.04 L106.55,324.41 L108.47,326.82 L110.38,329.16 L112.30,331.34 L114.22,333.48 L116.14,335.59 L118.06,337.48 L119.97,339.08 L121.89,340.49 L123.81,341.83 L125.73,343.05 L127.64,344.07 L129.56,344.82 L131.48,345.21 L133.40,345.18 L135.32,344.83 L137.23,344.18 L139.15,343.25 L141.07,342.03 L142.99,340.53 L144.90,338.55 L146.82,336.01 L148.74,333.14 L150.66,330.17 L152.58,327.37 L154.49,324.82 L156.41,322.31 L158.33,319.84 L160.25,317.43 L162.16,315.09 L164.08,312.85 L166.00,310.68 L167.92,308.58 L169.84,306.57 L171.75,304.63 L173.67,302.79 L175.59,301.00 L177.51,299.20 L179.43,297.44 L181.34,295.78 L183.26,294.26 L185.18,292.91 L187.10,291.75 L189.01,290.75 L190.93,289.86 L192.85,289.06 L194.77,288.36 L196.69,287.77 L198.60,287.29 L200.52,287.00 L202.44,286.96 L204.36,287.14 L206.27,287.55 L208.19,288.17 L210.11,288.97 L212.03,289.92 L213.95,291.01 L215.86,292.25 L217.78,293.75 L219.70,295.49 L221.62,297.28 L223.53,299.19 L225.45,301.22 L227.37,303.67 L229.29,306.38 L231.21,308.88 L233.12,311.11 L235.04,313.31 L236.96,315.47 L238.88,317.56 L240.80,319.55 L242.71,321.50 L244.63,323.33 L246.55,325.02 L248.47,326.64 L250.38,328.19 L252.30,329.66 L254.22,331.05 L256.14,332.37 L258.06,333.61 L259.97,334.76 L261.89,335.79 L263.81,336.81 L265.73,337.74 L267.64,338.62 L269.56,339.43 L271.48,340.21 L273.40,340.95 L275.32,341.67 L277.23,342.36 L279.15,342.97 L281.07,343.45 L282.99,343.77 L284.90,343.95 L286.82,343.96 L288.74,343.82 L290.66,343.54 L292.58,343.14 L294.49,342.64 L296.41,342.06 L298.33,341.39 L300.25,340.54 L302.17,339.24 L304.08,337.80 L306.00,336.23 L307.92,334.51 L309.84,332.69 L311.75,330.82 L313.67,328.96 L315.59,327.14 L317.51,325.42 L319.43,323.71 L321.34,321.97 L323.26,320.27 L325.18,318.66 L327.10,317.16 L329.01,315.81 L330.93,314.62 L332.85,313.53 L334.77,312.53 L336.69,311.62 L338.60,311.05 L340.52,310.59 L342.44,310.20 L344.36,309.86 L346.27,309.59 L348.19,309.45 L350.11,309.39 L352.03,309.37 L353.95,309.37 L355.86,309.36 L357.78,309.32 L359.70,309.10 L361.62,308.72 L363.54,308.19 L365.45,307.47 L367.37,306.59 L369.29,305.57 L371.21,304.48 L373.12,303.40 L375.04,302.42 L376.96,301.47 L378.88,300.49 L380.80,299.50 L382.71,298.53 L384.63,297.59 L386.55,296.73 L388.47,295.95 L390.38,295.23 L392.30,294.58 L394.22,294.05 L396.14,293.35 L398.06,292.60 L399.97,292.07 L401.89,291.70 L403.81,291.41 L405.73,291.17 L407.64,290.92 L407.64,343.28 L405.73,342.27 L403.81,341.24 L401.89,340.26 L399.97,339.36 L398.06,338.62 L396.14,338.10 L394.22,338.00 L392.30,338.41 L390.38,338.94 L388.47,339.54 L386.55,340.20 L384.63,340.94 L382.71,341.76 L380.80,342.61 L378.88,343.49 L376.96,344.37 L375.04,345.23 L373.12,346.12 L371.21,347.11 L369.29,348.11 L367.37,349.03 L365.45,349.83 L363.54,350.46 L361.62,350.90 L359.70,351.18 L357.78,351.34 L355.86,351.57 L353.95,351.76 L352.03,351.94 L350.11,352.14 L348.19,352.39 L346.27,352.71 L344.36,353.16 L342.44,353.68 L340.52,354.26 L338.60,354.89 L336.69,355.54 L334.77,355.98 L332.85,356.51 L330.93,357.11 L329.01,357.84 L327.10,358.71 L325.18,359.73 L323.26,360.87 L321.34,362.10 L319.43,363.35 L317.51,364.59 L315.59,365.84 L313.67,367.15 L311.75,368.51 L309.84,369.87 L307.92,371.18 L306.00,372.41 L304.08,373.47 L302.17,374.40 L300.25,375.21 L298.33,376.20 L296.41,377.13 L294.49,377.95 L292.58,378.70 L290.66,379.35 L288.74,379.88 L286.82,380.27 L284.90,380.50 L282.99,380.57 L281.07,380.44 L279.15,380.14 L277.23,379.71 L275.32,379.21 L273.40,378.66 L271.48,378.10 L269.56,377.51 L267.64,376.88 L265.73,376.19 L263.81,375.43 L261.89,374.59 L259.97,373.56 L258.06,372.41 L256.14,371.17 L254.22,369.85 L252.30,368.46 L250.38,366.99 L248.47,365.44 L246.55,363.82 L244.63,362.13 L242.71,360.30 L240.80,358.33 L238.88,356.18 L236.96,353.92 L235.04,351.60 L233.12,349.24 L231.21,346.84 L229.29,344.17 L227.37,341.30 L225.45,338.69 L223.53,336.49 L221.62,334.42 L219.70,332.52 L217.78,330.97 L215.86,329.66 L213.95,328.61 L212.03,327.72 L210.11,326.95 L208.19,326.35 L206.27,325.92 L204.36,325.70 L202.44,325.71 L200.52,325.94 L198.60,326.29 L196.69,326.77 L194.77,327.36 L192.85,328.06 L190.93,328.86 L189.01,329.75 L187.10,330.75 L185.18,331.91 L183.26,333.26 L181.34,334.78 L179.43,336.44 L177.51,338.20 L175.59,340.00 L173.67,341.79 L171.75,343.63 L169.84,345.57 L167.92,347.58 L166.00,349.68 L164.08,351.85 L162.16,354.09 L160.25,356.43 L158.33,358.84 L156.41,361.31 L154.49,363.82 L152.58,366.37 L150.66,369.17 L148.74,372.14 L146.82,375.01 L144.90,377.55 L142.99,379.53 L141.07,381.03 L139.15,382.25 L137.23,383.18 L135.32,383.83 L133.40,384.18 L131.48,384.21 L129.56,383.82 L127.64,383.07 L125.73,382.05 L123.81,380.83 L121.89,379.49 L119.97,378.08 L118.06,376.48 L116.14,374.59 L114.22,372.48 L112.30,370.34 L110.38,368.16 L108.47,365.82 L106.55,363.41 L104.63,361.04 L102.71,358.77 L100.79,356.70 L98.88,354.91 L96.96,353.34 L95.04,351.94 L93.12,350.75 L91.21,349.76 L89.29,348.94 L87.37,348.23 L85.45,347.62 L83.53,347.13 L81.62,346.72 L79.70,346.37 L77.78,346.05 L75.86,345.76 L73.95,345.48 L72.03,345.21 L70.11,344.93 L68.19,344.63 L66.27,344.30 L64.36,343.96 L62.44,343.63 L60.52,343.29 L58.60,342.96 L56.69,342.63 L54.77,342.29 L52.85,341.94 L50.93,341.59 L49.01,341.21 L47.10,340.76 L45.18,340.19 L43.26,339.57 L41.34,339.07 L39.42,338.81 L37.51,338.79 L35.59,338.90 L33.67,339.11 L31.75,339.36 L29.84,339.64 L27.92,339.93 L26.00,340.13Z" fill="#ccccfa" stroke="#b4b4dc" stroke-width="0.8"/>
<path d="M26.00,320.54 L29.86,319.55 L33.71,318.46 L37.56,317.64 L41.42,317.97 L45.27,319.19 L49.13,320.59 L52.98,321.92 L56.84,323.23 L60.70,324.46 L64.55,325.65 L68.41,326.46 L72.26,326.78 L76.12,326.91 L79.97,327.08 L83.83,327.19 L87.68,327.57 L91.53,328.52 L95.39,329.91 L99.25,331.73 L103.10,334.38 L106.95,337.68 L110.81,341.15 L114.67,344.52 L118.52,347.87 L122.38,350.77 L126.23,352.99 L130.08,354.73 L133.94,386.50 L137.80,355.47 L141.65,354.24 L145.50,351.52 L149.36,348.01 L153.22,343.85 L157.07,339.35 L160.93,334.72 L164.78,330.15 L168.63,325.94 L172.49,322.18 L176.34,318.60 L180.20,315.24 L184.06,312.24 L187.91,309.78 L191.76,307.76 L195.62,305.96 L199.47,304.29 L203.33,303.81 L207.19,304.53 L211.04,305.89 L214.90,307.81 L218.75,310.84 L222.60,315.19 L226.46,320.64 L230.31,326.35 L234.17,332.04 L238.03,337.13 L241.88,342.00 L245.73,346.39 L249.59,349.80 L253.44,352.21 L257.30,354.09 L261.15,355.79 L265.01,357.33 L268.87,358.58 L272.72,359.66 L276.57,360.67 L280.43,361.35 L284.29,361.42 L288.14,360.96 L292.00,360.01 L295.85,358.40 L299.70,376.50 L303.56,352.16 L307.42,348.34 L311.27,344.73 L315.12,341.32 L318.98,338.12 L322.83,335.52 L326.69,333.74 L330.55,332.77 L334.40,332.26 L338.25,332.13 L342.11,332.13 L345.96,332.06 L349.82,331.86 L353.68,331.71 L357.53,331.32 L361.38,330.37 L365.24,328.65 L369.09,326.43 L372.95,324.03 L376.81,321.72 L380.66,319.29 L384.51,316.88 L388.37,314.75 L392.23,312.95 L396.08,311.51 L399.94,310.71 L403.79,310.76 L407.64,310.91" fill="none" stroke="#1a6c1a" stroke-width="2.3" stroke-linecap="round" stroke-dasharray="2.2,7.3" />
<path d="M26.51,320.13C28.59,319.92 35.28,318.66 39.04,318.87C42.80,319.08 44.47,320.42 49.06,321.38C53.66,322.34 60.34,323.47 66.61,324.64C72.87,325.81 81.23,326.56 86.66,328.40C92.09,330.23 95.01,332.03 99.19,335.66C103.37,339.30 108.17,346.32 111.72,350.20C115.27,354.09 117.15,356.55 120.49,358.97C123.83,361.40 128.01,364.57 131.77,364.74C135.53,364.90 139.50,363.07 143.05,359.97C146.60,356.88 149.65,350.70 153.07,346.19C156.50,341.68 160.05,337.00 163.60,332.91C167.15,328.81 170.49,325.22 174.38,321.63C178.26,318.04 182.31,313.90 186.91,311.35C191.50,308.81 197.35,306.55 201.94,306.34C206.54,306.13 210.72,308.01 214.48,310.10C218.24,312.19 221.57,315.74 224.50,318.87C227.43,322.01 228.70,324.93 232.05,328.90C235.40,332.87 239.99,338.50 244.58,342.68C249.18,346.86 254.61,351.04 259.62,353.96C264.63,356.88 270.48,358.85 274.66,360.23C278.83,361.60 281.34,362.23 284.68,362.23C288.02,362.23 291.37,361.40 294.71,360.23C298.05,359.06 300.97,357.72 304.73,355.21C308.49,352.71 313.09,348.32 317.26,345.19C321.44,342.06 325.20,338.71 329.79,336.42C334.39,334.12 339.40,332.53 344.83,331.40C350.26,330.28 357.36,330.90 362.38,329.65C367.39,328.40 370.73,325.81 374.91,323.88C379.08,321.96 383.68,319.50 387.44,318.12C391.20,316.74 394.08,315.78 397.46,315.61C400.85,315.45 406.03,316.87 407.74,317.12" fill="none" stroke="#0808c0" stroke-width="1.95" stroke-linejoin="round"/>
<path d="M23.40,317.44L29.60,323.64M23.40,323.64L29.60,317.44M33.40,314.70L39.60,320.90M33.40,320.90L39.60,314.70M36.40,314.49L42.60,320.69M36.40,320.69L42.60,314.49M38.40,314.89L44.60,321.09M38.40,321.09L44.60,314.89M45.20,317.20L51.40,323.40M45.20,323.40L51.40,317.20M64.80,323.29L71.00,329.49M64.80,329.49L71.00,323.29M84.80,324.51L91.00,330.71M84.80,330.71L91.00,324.51M99.90,331.21L106.10,337.41M99.90,337.41L106.10,331.21M133.70,352.49L139.90,358.69M133.70,358.69L139.90,352.49M138.20,351.32L144.40,357.52M138.20,357.52L144.40,351.32M146.20,344.97L152.40,351.17M146.20,351.17L152.40,344.97M153.70,336.57L159.90,342.77M153.70,342.77L159.90,336.57M157.50,332.00L163.70,338.20M157.50,338.20L163.70,332.00M180.00,309.83L186.20,316.03M180.00,316.03L186.20,309.83M200.10,300.70L206.30,306.90M200.10,306.90L206.30,300.70M211.40,304.47L217.60,310.67M211.40,310.67L217.60,304.47M218.90,311.35L225.10,317.55M218.90,317.55L225.10,311.35M226.40,322.07L232.60,328.27M226.40,328.27L232.60,322.07M246.00,346.33L252.20,352.53M246.00,352.53L252.20,346.33M257.80,352.58L264.00,358.78M257.80,358.78L264.00,352.58M277.10,358.22L283.30,364.42M277.10,364.42L283.30,358.22M281.60,358.30L287.80,364.50M281.60,364.50L287.80,358.30M288.60,357.00L294.80,363.20M288.60,363.20L294.80,357.00M292.90,355.21L299.10,361.41M292.90,361.41L299.10,355.21M300.40,349.12L306.60,355.32M300.40,355.32L306.60,349.12M307.90,341.86L314.10,348.06M307.90,348.06L314.10,341.86M319.20,332.73L325.40,338.93M319.20,338.93L325.40,332.73M358.00,327.37L364.20,333.57M358.00,333.57L364.20,327.37M393.10,308.37L399.30,314.57M393.10,314.57L399.30,308.37M130.84,383.40L137.04,389.60M130.84,389.60L137.04,383.40M296.60,373.40L302.81,379.60M296.60,379.60L302.81,373.40" fill="none" stroke="#4040b4" stroke-width="1.2"/>
</g>
<rect x="26.00" y="279.50" width="385.50" height="124.50" fill="none" stroke="#6e6e6e" stroke-width="1.75"/>
<path d="M103.10,279.50L103.10,283.50M103.10,404.00L103.10,400.00M180.20,279.50L180.20,283.50M180.20,404.00L180.20,400.00M257.30,279.50L257.30,283.50M257.30,404.00L257.30,400.00M334.40,279.50L334.40,283.50M334.40,404.00L334.40,400.00" stroke="#6e6e6e" stroke-width="1" fill="none"/>
<g clip-path="url(#c21)">
<path d="M439.00,299.96 L439.82,299.96 L442.54,295.42 L447.08,296.56 L451.61,299.51 L458.42,296.56 L461.83,301.09 L466.36,297.69 L475.44,298.83 L481.11,306.77 L486.79,298.83 L493.59,298.14 L501.54,309.49 L507.21,298.83 L511.75,299.51 L516.28,311.31 L520.82,299.96 L535.57,299.96 L540.11,311.31 L543.61,331.73 L547.02,364.63 L550.42,343.07 L554.96,331.73 L561.77,327.19 L565.17,318.11 L571.98,315.84 L577.65,304.50 L584.46,297.69 L590.13,294.29 L596.94,297.69 L604.88,292.02 L611.69,293.15 L617.36,285.89 L625.30,288.61 L630.98,285.21 L636.75,296.56 L643.56,304.50 L649.23,299.96 L656.04,303.36 L661.71,322.65 L666.25,314.71 L671.92,324.92 L682.13,303.36 L690.07,319.25 L694.61,337.40 L701.42,330.59 L707.09,335.13 L712.76,347.61 L719.57,318.11 L724.21,322.65 L731.02,306.77 L736.69,314.71 L742.36,299.96 L768.46,299.51 L774.81,310.17 L779.80,299.96 L800.23,299.51 L805.90,292.02 L809.76,295.42 L813.84,292.02 L821.78,298.83 L821.64,298.83 L821.64,375.98 L821.78,375.98 L817.24,370.30 L809.76,338.54 L802.50,375.98 L782.07,375.98 L774.81,353.28 L768.46,374.84 L743.50,374.84 L736.69,357.82 L728.75,373.71 L723.08,365.76 L718.44,377.11 L712.76,387.32 L707.09,379.38 L700.28,378.24 L692.34,379.38 L683.27,380.51 L676.46,375.98 L669.65,380.51 L663.98,370.30 L658.31,374.84 L651.50,375.98 L643.56,352.15 L636.75,340.80 L631.08,335.13 L628.71,343.07 L621.90,349.88 L617.36,335.13 L611.69,361.23 L606.02,372.57 L597.62,343.07 L590.13,374.84 L583.32,375.98 L575.38,352.15 L569.71,365.76 L565.17,365.76 L559.50,374.84 L553.83,377.11 L550.42,392.99 L547.02,398.67 L543.61,392.99 L536.71,378.24 L524.23,374.84 L516.28,356.69 L510.61,374.84 L501.08,353.28 L491.32,374.84 L481.11,352.15 L472.04,374.84 L462.96,347.61 L459.56,349.88 L457.29,347.61 L451.61,341.94 L448.21,343.07 L443.67,360.09 L439.82,358.96 L439.00,358.96Z" fill="#ffcccc" stroke="#dcb4b4" stroke-width="0.8"/>
<path d="M440.00,320.54 L443.86,319.55 L447.71,318.46 L451.56,317.64 L455.42,317.97 L459.27,319.19 L463.13,320.59 L466.99,321.92 L470.84,323.23 L474.69,324.46 L478.55,325.65 L482.40,326.46 L486.26,326.78 L490.12,326.91 L493.97,327.08 L497.82,327.19 L501.68,327.57 L505.53,328.52 L509.39,329.91 L513.25,331.73 L517.10,334.38 L520.96,337.68 L524.81,341.15 L528.66,344.52 L532.52,347.87 L536.38,350.77 L540.23,352.99 L544.09,354.73 L547.94,386.50 L551.79,355.47 L555.65,354.24 L559.50,351.52 L563.36,348.01 L567.22,343.85 L571.07,339.35 L574.92,334.72 L578.78,330.15 L582.63,325.94 L586.49,322.18 L590.35,318.60 L594.20,315.24 L598.06,312.24 L601.91,309.78 L605.76,307.76 L609.62,305.96 L613.48,304.29 L617.33,303.81 L621.18,304.53 L625.04,305.89 L628.89,307.81 L632.75,310.84 L636.61,315.19 L640.46,320.64 L644.32,326.35 L648.17,332.04 L652.02,337.13 L655.88,342.00 L659.74,346.39 L663.59,349.80 L667.44,352.21 L671.30,354.09 L675.15,355.79 L679.01,357.33 L682.87,358.58 L686.72,359.66 L690.58,360.67 L694.43,361.35 L698.29,361.42 L702.14,360.96 L706.00,360.01 L709.85,358.40 L713.70,376.50 L717.56,352.16 L721.41,348.34 L725.27,344.73 L729.12,341.32 L732.98,338.12 L736.84,335.52 L740.69,333.74 L744.55,332.77 L748.40,332.26 L752.25,332.13 L756.11,332.13 L759.96,332.06 L763.82,331.86 L767.67,331.71 L771.53,331.32 L775.38,330.37 L779.24,328.65 L783.10,326.43 L786.95,324.03 L790.81,321.72 L794.66,319.29 L798.51,316.88 L802.37,314.75 L806.23,312.95 L810.08,311.51 L813.93,310.71 L817.79,310.76 L821.64,310.91" fill="none" stroke="#1a6c1a" stroke-width="2.3" stroke-linecap="round" stroke-dasharray="2.2,7.3" />
<path d="M439.00,323.79 L439.82,323.79 L443.67,327.64 L447.08,327.19 L452.75,319.93 L459.56,322.65 L472.04,336.27 L481.11,327.64 L491.32,337.40 L501.08,329.46 L510.61,336.72 L516.28,334.45 L525.36,338.08 L536.71,338.99 L540.21,349.88 L547.02,377.11 L551.56,354.42 L554.96,351.02 L561.77,348.75 L569.71,341.94 L576.52,335.81 L583.32,338.54 L590.13,335.13 L597.62,316.98 L606.02,335.13 L609.42,334.45 L616.91,309.04 L624.17,320.38 L628.71,311.76 L643.56,326.06 L649.23,334.00 L656.04,339.67 L662.84,348.75 L667.38,345.80 L674.64,352.15 L683.27,340.80 L687.80,341.26 L693.48,357.82 L700.28,356.23 L707.09,357.82 L712.31,368.03 L717.40,352.15 L720.81,342.62 L724.21,344.21 L735.56,335.81 L743.50,338.08 L766.19,338.08 L774.81,330.59 L782.07,337.40 L797.96,338.08 L802.50,335.13 L809.76,315.84 L817.24,334.45 L821.78,338.54" fill="none" stroke="#cc1414" stroke-width="1.95" stroke-linejoin="round"/>
<path d="M437.40,317.44L443.60,323.64M437.40,323.64L443.60,317.44M447.40,314.70L453.60,320.90M447.40,320.90L453.60,314.70M450.40,314.49L456.60,320.69M450.40,320.69L456.60,314.49M452.40,314.89L458.60,321.09M452.40,321.09L458.60,314.89M459.20,317.20L465.40,323.40M459.20,323.40L465.40,317.20M478.80,323.29L485.00,329.49M478.80,329.49L485.00,323.29M498.80,324.51L505.00,330.71M498.80,330.71L505.00,324.51M513.90,331.21L520.10,337.41M513.90,337.41L520.10,331.21M547.70,352.49L553.90,358.69M547.70,358.69L553.90,352.49M552.20,351.32L558.40,357.52M552.20,357.52L558.40,351.32M560.20,344.97L566.40,351.17M560.20,351.17L566.40,344.97M567.70,336.57L573.90,342.77M567.70,342.77L573.90,336.57M571.50,332.00L577.70,338.20M571.50,338.20L577.70,332.00M594.00,309.83L600.20,316.03M594.00,316.03L600.20,309.83M614.10,300.70L620.30,306.90M614.10,306.90L620.30,300.70M625.40,304.47L631.60,310.67M625.40,310.67L631.60,304.47M632.90,311.35L639.10,317.55M632.90,317.55L639.10,311.35M640.40,322.07L646.60,328.27M640.40,328.27L646.60,322.07M660.00,346.33L666.20,352.53M660.00,352.53L666.20,346.33M671.80,352.58L678.00,358.78M671.80,358.78L678.00,352.58M691.10,358.22L697.30,364.42M691.10,364.42L697.30,358.22M695.60,358.30L701.80,364.50M695.60,364.50L701.80,358.30M702.60,357.00L708.80,363.20M702.60,363.20L708.80,357.00M706.90,355.21L713.10,361.41M706.90,361.41L713.10,355.21M714.40,349.12L720.60,355.32M714.40,355.32L720.60,349.12M721.90,341.86L728.10,348.06M721.90,348.06L728.10,341.86M733.20,332.73L739.40,338.93M733.20,338.93L739.40,332.73M772.00,327.37L778.20,333.57M772.00,333.57L778.20,327.37M807.10,308.37L813.30,314.57M807.10,314.57L813.30,308.37M544.84,383.40L551.04,389.60M544.84,389.60L551.04,383.40M710.60,373.40L716.80,379.60M710.60,379.60L716.80,373.40" fill="none" stroke="#5a40b8" stroke-width="1.2"/>
</g>
<rect x="440.00" y="279.50" width="385.50" height="124.50" fill="none" stroke="#6e6e6e" stroke-width="1.75"/>
<path d="M517.10,279.50L517.10,283.50M517.10,404.00L517.10,400.00M594.20,279.50L594.20,283.50M594.20,404.00L594.20,400.00M671.30,279.50L671.30,283.50M671.30,404.00L671.30,400.00M748.40,279.50L748.40,283.50M748.40,404.00L748.40,400.00" stroke="#6e6e6e" stroke-width="1" fill="none"/>
<g clip-path="url(#c30)">
<path d="M26.00,434.89 L27.92,434.66 L29.84,434.29 L31.75,433.93 L33.67,433.61 L35.59,433.34 L37.51,433.14 L39.42,433.02 L41.34,432.99 L43.26,433.04 L45.18,433.13 L47.10,433.25 L49.01,433.40 L50.93,433.58 L52.85,433.79 L54.77,434.02 L56.69,434.27 L58.60,434.55 L60.52,434.86 L62.44,435.20 L64.36,435.56 L66.27,435.94 L68.19,436.34 L70.11,436.77 L72.03,437.22 L73.95,437.70 L75.86,438.21 L77.78,438.76 L79.70,439.37 L81.62,440.04 L83.53,440.82 L85.45,441.76 L87.37,442.95 L89.29,444.43 L91.21,446.14 L93.12,447.87 L95.04,449.58 L96.96,451.44 L98.88,453.38 L100.79,455.35 L102.71,457.27 L104.63,459.06 L106.55,460.73 L108.47,462.27 L110.38,463.76 L112.30,465.30 L114.22,466.92 L116.14,468.53 L118.06,470.03 L119.97,471.36 L121.89,472.42 L123.81,473.26 L125.73,473.91 L127.64,474.38 L129.56,474.66 L131.48,474.74 L133.40,474.63 L135.32,474.31 L137.23,473.80 L139.15,473.10 L141.07,472.24 L142.99,471.23 L144.90,470.03 L146.82,468.65 L148.74,467.11 L150.66,465.45 L152.58,463.68 L154.49,461.80 L156.41,459.77 L158.33,457.61 L160.25,455.38 L162.16,453.12 L164.08,450.85 L166.00,448.49 L167.92,446.03 L169.84,443.59 L171.75,441.28 L173.67,439.12 L175.59,437.04 L177.51,434.95 L179.43,432.89 L181.34,430.87 L183.26,428.91 L185.18,427.05 L187.10,425.31 L189.01,423.76 L190.93,422.47 L192.85,421.47 L194.77,420.76 L196.69,420.33 L198.60,420.14 L200.52,420.09 L202.44,420.09 L204.36,420.22 L206.27,420.51 L208.19,420.94 L210.11,421.49 L212.03,422.16 L213.95,422.95 L215.86,423.88 L217.78,424.99 L219.70,426.30 L221.62,427.83 L223.53,429.60 L225.45,431.69 L227.37,434.46 L229.29,437.67 L231.21,440.62 L233.12,443.16 L235.04,445.64 L236.96,448.07 L238.88,450.41 L240.80,452.65 L242.71,454.80 L244.63,456.81 L246.55,458.67 L248.47,460.43 L250.38,462.11 L252.30,463.71 L254.22,465.23 L256.14,466.68 L258.06,468.04 L259.97,469.30 L261.89,470.44 L263.81,471.43 L265.73,472.30 L267.64,473.03 L269.56,473.64 L271.48,474.16 L273.40,474.60 L275.32,474.94 L277.23,475.16 L279.15,475.28 L281.07,475.30 L282.99,475.22 L284.90,475.12 L286.82,474.92 L288.74,474.64 L290.66,474.26 L292.58,473.76 L294.49,473.16 L296.41,472.43 L298.33,471.55 L300.25,470.43 L302.17,469.15 L304.08,467.78 L306.00,466.21 L307.92,464.71 L309.84,463.37 L311.75,462.16 L313.67,461.01 L315.59,459.92 L317.51,458.89 L319.43,457.92 L321.34,457.00 L323.26,456.13 L325.18,455.29 L327.10,454.21 L329.01,453.18 L330.93,452.16 L332.85,451.16 L334.77,450.17 L336.69,449.19 L338.60,448.43 L340.52,447.75 L342.44,447.09 L344.36,446.44 L346.27,445.79 L348.19,445.13 L350.11,444.46 L352.03,443.76 L353.95,443.04 L355.86,442.31 L357.78,441.56 L359.70,440.90 L361.62,440.25 L363.54,439.58 L365.45,438.91 L367.37,438.22 L369.29,437.50 L371.21,436.75 L373.12,435.97 L375.04,435.19 L376.96,434.42 L378.88,433.66 L380.80,432.84 L382.71,432.06 L384.63,431.32 L386.55,430.60 L388.47,429.91 L390.38,429.29 L392.30,428.74 L394.22,428.29 L396.14,427.75 L398.06,427.21 L399.97,426.75 L401.89,426.33 L403.81,425.95 L405.73,425.59 L407.64,425.21 L407.64,491.05 L405.73,490.54 L403.81,490.02 L401.89,489.51 L399.97,489.04 L398.06,488.62 L396.14,488.28 L394.22,488.19 L392.30,488.40 L390.38,488.71 L388.47,489.10 L386.55,489.54 L384.63,490.03 L382.71,490.53 L380.80,491.07 L378.88,491.66 L376.96,492.40 L375.04,493.15 L373.12,493.92 L371.21,494.67 L369.29,495.40 L367.37,496.11 L365.45,496.78 L363.54,497.44 L361.62,498.08 L359.70,498.72 L357.78,499.33 L355.86,499.82 L353.95,500.30 L352.03,500.77 L350.11,501.21 L348.19,501.63 L346.27,502.02 L344.36,502.42 L342.44,502.81 L340.52,503.22 L338.60,503.65 L336.69,504.06 L334.77,504.24 L332.85,504.43 L330.93,504.63 L329.01,504.85 L327.10,505.09 L325.18,505.37 L323.26,505.97 L321.34,506.65 L319.43,507.39 L317.51,508.18 L315.59,509.02 L313.67,509.93 L311.75,510.90 L309.84,511.93 L307.92,513.09 L306.00,514.40 L304.08,515.78 L302.17,517.36 L300.25,518.86 L298.33,520.20 L296.41,521.30 L294.49,522.25 L292.58,523.07 L290.66,523.78 L288.74,524.38 L286.82,524.89 L284.90,525.30 L282.99,525.62 L281.07,525.77 L279.15,525.83 L277.23,525.78 L275.32,525.63 L273.40,525.37 L271.48,525.00 L269.56,524.55 L267.64,524.01 L265.73,523.35 L263.81,522.56 L261.89,521.64 L259.97,520.58 L258.06,519.39 L256.14,518.11 L254.22,516.73 L252.30,515.28 L250.38,513.75 L248.47,512.15 L246.55,510.46 L244.63,508.67 L242.71,506.74 L240.80,504.64 L238.88,502.36 L236.96,499.97 L235.04,497.50 L233.12,494.97 L231.21,492.38 L229.29,489.39 L227.37,486.13 L225.45,483.31 L223.53,481.17 L221.62,479.36 L219.70,477.78 L217.78,476.43 L215.86,475.27 L213.95,474.29 L212.03,473.45 L210.11,472.73 L208.19,472.14 L206.27,471.66 L204.36,471.33 L202.44,471.15 L200.52,471.10 L198.60,471.14 L196.69,471.33 L194.77,471.76 L192.85,472.47 L190.93,473.47 L189.01,474.76 L187.10,476.31 L185.18,478.05 L183.26,479.91 L181.34,481.87 L179.43,483.89 L177.51,485.95 L175.59,488.04 L173.67,490.12 L171.75,492.28 L169.84,494.59 L167.92,497.03 L166.00,499.49 L164.08,501.85 L162.16,504.12 L160.25,506.38 L158.33,508.61 L156.41,510.77 L154.49,512.80 L152.58,514.68 L150.66,516.45 L148.74,518.11 L146.82,519.65 L144.90,521.03 L142.99,522.23 L141.07,523.24 L139.15,524.10 L137.23,524.80 L135.32,525.31 L133.40,525.63 L131.48,525.74 L129.56,525.66 L127.64,525.38 L125.73,524.91 L123.81,524.26 L121.89,523.42 L119.97,522.36 L118.06,521.03 L116.14,519.53 L114.22,517.92 L112.30,516.30 L110.38,514.76 L108.47,513.27 L106.55,511.73 L104.63,510.06 L102.71,508.27 L100.79,506.35 L98.88,504.40 L96.96,502.48 L95.04,500.65 L93.12,498.96 L91.21,497.26 L89.29,495.58 L87.37,494.12 L85.45,492.96 L83.53,492.04 L81.62,491.28 L79.70,490.64 L77.78,490.07 L75.86,489.54 L73.95,489.05 L72.03,488.60 L70.11,488.17 L68.19,487.77 L66.27,487.40 L64.36,487.04 L62.44,486.70 L60.52,486.39 L58.60,486.11 L56.69,485.86 L54.77,485.63 L52.85,485.42 L50.93,485.24 L49.01,485.09 L47.10,484.96 L45.18,484.87 L43.26,484.81 L41.34,484.78 L39.42,484.84 L37.51,484.99 L35.59,485.21 L33.67,485.51 L31.75,485.85 L29.84,486.24 L27.92,486.63 L26.00,486.89Z" fill="#ccccfa" stroke="#b4b4dc" stroke-width="0.8"/>
<path d="M26.00,460.18 L29.86,459.14 L33.71,457.99 L37.56,457.13 L41.42,457.48 L45.27,458.76 L49.13,460.23 L52.98,461.63 L56.84,463.00 L60.70,464.30 L64.55,465.55 L68.41,466.40 L72.26,466.74 L76.12,466.88 L79.97,467.06 L83.83,467.17 L87.68,467.57 L91.53,468.56 L95.39,470.03 L99.25,471.94 L103.10,474.73 L106.95,478.19 L110.81,481.84 L114.67,485.38 L118.52,488.90 L122.38,491.95 L126.23,494.28 L130.08,496.11 L133.94,529.80 L137.80,496.89 L141.65,495.59 L145.50,492.74 L149.36,489.05 L153.22,484.68 L157.07,479.95 L160.93,475.08 L164.78,470.28 L168.63,465.86 L172.49,461.91 L176.34,458.15 L180.20,454.61 L184.06,451.46 L187.91,448.87 L191.76,446.75 L195.62,444.86 L199.47,443.11 L203.33,442.60 L207.19,443.36 L211.04,444.79 L214.90,446.80 L218.75,449.99 L222.60,454.56 L226.46,460.29 L230.31,466.29 L234.17,472.26 L238.03,477.62 L241.88,482.73 L245.73,487.34 L249.59,490.93 L253.44,493.46 L257.30,495.44 L261.15,497.23 L265.01,498.84 L268.87,500.15 L272.72,501.29 L276.57,502.35 L280.43,503.07 L284.29,503.15 L288.14,502.66 L292.00,501.66 L295.85,466.40 L299.70,519.00 L303.56,493.41 L307.42,489.40 L311.27,485.60 L315.12,482.02 L318.98,478.65 L322.83,475.93 L326.69,474.06 L330.55,473.04 L334.40,472.49 L338.25,472.36 L342.11,472.36 L345.96,472.29 L349.82,472.08 L353.68,471.92 L357.53,471.51 L361.38,470.51 L365.24,468.70 L369.09,466.37 L372.95,463.85 L376.81,461.42 L380.66,458.87 L384.51,456.33 L388.37,454.09 L392.23,452.20 L396.08,450.69 L399.94,449.85 L403.79,449.90 L407.64,450.07" fill="none" stroke="#1a6c1a" stroke-width="2.3" stroke-linecap="round" stroke-dasharray="2.2,7.3" />
<path d="M26.51,460.89C28.93,460.56 35.11,458.88 41.04,458.88C46.97,458.88 55.12,459.68 62.10,460.89C69.07,462.10 77.68,464.02 82.90,466.15C88.12,468.28 89.91,470.71 93.42,473.67C96.93,476.64 101.03,481.27 103.95,483.95C106.87,486.62 108.04,487.41 110.97,489.71C113.89,492.01 117.98,495.98 121.49,497.73C125.00,499.49 128.51,500.36 132.02,500.24C135.53,500.11 139.04,498.90 142.55,496.98C146.06,495.06 149.56,492.05 153.07,488.71C156.58,485.37 160.13,480.98 163.60,476.93C167.07,472.88 169.49,469.12 173.87,464.40C178.26,459.68 185.24,451.74 189.91,448.61C194.59,445.48 197.85,445.56 201.94,445.60C206.04,445.64 210.72,447.06 214.48,448.86C218.24,450.66 221.57,453.25 224.50,456.38C227.43,459.51 228.70,463.27 232.05,467.66C235.40,472.04 239.99,478.18 244.58,482.69C249.18,487.21 255.02,491.88 259.62,494.72C264.21,497.56 267.97,498.82 272.15,499.74C276.33,500.66 280.50,500.78 284.68,500.24C288.86,499.70 293.04,498.57 297.21,496.48C301.39,494.39 305.57,490.21 309.74,487.71C313.92,485.20 317.68,483.32 322.28,481.44C326.87,479.56 332.30,477.97 337.31,476.43C342.33,474.88 347.34,473.71 352.35,472.17C357.36,470.62 362.38,468.95 367.39,467.16C372.40,465.36 377.83,462.89 382.43,461.39C387.02,459.89 390.74,458.68 394.96,458.13C399.18,457.59 405.61,458.13 407.74,458.13" fill="none" stroke="#0808c0" stroke-width="1.95" stroke-linejoin="round"/>
<path d="M23.40,457.08L29.60,463.28M23.40,463.28L29.60,457.08M33.40,454.20L39.60,460.40M33.40,460.40L39.60,454.20M36.40,453.98L42.60,460.18M36.40,460.18L42.60,453.98M38.40,454.40L44.60,460.60M38.40,460.60L44.60,454.40M45.20,456.83L51.40,463.03M45.20,463.03L51.40,456.83M64.80,463.23L71.00,469.43M64.80,469.43L71.00,463.23M84.80,464.51L91.00,470.71M84.80,470.71L91.00,464.51M99.90,471.55L106.10,477.75M99.90,477.75L106.10,471.55M133.70,493.91L139.90,500.11M133.70,500.11L139.90,493.91M138.20,492.68L144.40,498.88M138.20,498.88L144.40,492.68M146.20,486.01L152.40,492.21M146.20,492.21L152.40,486.01M153.70,477.18L159.90,483.38M153.70,483.38L159.90,477.18M157.50,472.38L163.70,478.58M157.50,478.58L163.70,472.38M180.00,449.08L186.20,455.28M180.00,455.28L186.20,449.08M200.10,439.48L206.30,445.68M200.10,445.68L206.30,439.48M211.40,443.45L217.60,449.65M211.40,449.65L217.60,443.45M218.90,450.68L225.10,456.88M218.90,456.88L225.10,450.68M226.40,461.95L232.60,468.15M226.40,468.15L232.60,461.95M246.00,487.44L252.20,493.64M246.00,493.64L252.20,487.44M257.80,494.01L264.00,500.21M257.80,500.21L264.00,494.01M277.10,499.94L283.30,506.14M277.10,506.14L283.30,499.94M281.60,500.02L287.80,506.22M281.60,506.22L287.80,500.02M288.60,498.66L294.80,504.86M288.60,504.86L294.80,498.66M300.40,490.37L306.60,496.57M300.40,496.57L306.60,490.37M307.90,482.75L314.10,488.95M307.90,488.95L314.10,482.75M319.20,473.15L325.40,479.35M319.20,479.35L325.40,473.15M358.00,467.52L364.20,473.72M358.00,473.72L364.20,467.52M393.10,447.55L399.30,453.75M393.10,453.75L399.30,447.55M130.84,526.70L137.04,532.90M130.84,532.90L137.04,526.70M292.75,463.30L298.95,469.50M292.75,469.50L298.95,463.30M296.60,515.90L302.81,522.10M296.60,522.10L302.81,515.90" fill="none" stroke="#4040b4" stroke-width="1.2"/>
</g>
<rect x="26.00" y="414.50" width="385.50" height="124.50" fill="none" stroke="#6e6e6e" stroke-width="1.75"/>
<path d="M103.10,414.50L103.10,418.50M103.10,539.00L103.10,535.00M180.20,414.50L180.20,418.50M180.20,539.00L180.20,535.00M257.30,414.50L257.30,418.50M257.30,539.00L257.30,535.00M334.40,414.50L334.40,418.50M334.40,539.00L334.40,535.00" stroke="#6e6e6e" stroke-width="1" fill="none"/>
<g clip-path="url(#c31)">
<path d="M439.00,449.71 L439.82,449.71 L442.54,432.24 L447.08,432.69 L450.48,453.11 L452.75,455.38 L456.15,453.11 L458.88,430.42 L461.83,455.38 L466.36,432.69 L478.84,433.83 L482.25,463.32 L485.65,434.96 L498.13,434.96 L501.54,463.32 L504.94,434.96 L514.02,434.96 L516.28,473.54 L519.69,436.09 L537.84,434.96 L540.21,436.09 L543.61,466.73 L547.02,525.72 L550.88,496.23 L554.96,491.69 L558.36,445.17 L561.77,486.02 L566.31,441.77 L569.71,478.07 L575.38,471.27 L578.79,434.96 L592.40,431.56 L596.94,450.84 L601.48,430.42 L607.15,433.83 L612.82,428.15 L616.23,441.77 L620.76,428.15 L627.57,428.15 L629.84,444.04 L633.24,430.42 L636.07,451.98 L640.15,429.29 L644.24,462.19 L646.96,433.83 L656.04,434.96 L659.44,441.77 L662.84,488.28 L667.38,439.50 L670.79,439.50 L674.64,493.96 L679.86,434.96 L688.94,434.96 L694.16,500.76 L698.02,500.76 L701.42,449.71 L705.50,498.50 L709.36,465.59 L713.22,516.65 L717.40,455.38 L721.26,440.63 L725.35,484.88 L729.43,437.23 L732.15,436.09 L736.24,475.80 L740.78,434.51 L769.59,434.51 L774.81,469.00 L779.80,434.51 L802.50,434.51 L805.90,429.97 L809.76,449.71 L813.84,430.42 L820.65,434.51 L821.64,434.51 L821.64,520.05 L820.65,520.05 L818.38,520.05 L813.84,509.84 L809.76,456.52 L802.50,520.05 L779.80,520.05 L774.81,472.40 L769.59,520.05 L740.78,520.05 L736.24,478.07 L732.15,520.05 L729.43,521.19 L725.35,488.28 L721.26,521.19 L717.40,496.23 L713.22,521.19 L709.36,470.13 L705.50,503.03 L701.42,529.13 L698.02,505.30 L694.16,504.17 L688.94,521.19 L679.86,522.32 L674.64,499.63 L670.79,523.46 L667.38,522.32 L662.84,491.69 L659.44,521.19 L648.09,518.92 L644.24,466.73 L640.15,509.84 L636.07,456.52 L633.24,505.30 L628.71,453.11 L624.17,510.98 L620.76,509.84 L616.23,478.07 L613.96,487.15 L608.28,518.92 L602.61,518.92 L596.94,469.00 L592.40,518.92 L578.79,518.92 L575.38,478.07 L569.71,488.28 L566.31,522.32 L561.77,497.36 L558.36,523.46 L554.96,500.76 L550.88,505.30 L547.02,532.53 L543.61,527.99 L540.21,521.19 L537.84,521.19 L519.69,518.92 L516.28,475.80 L514.02,521.19 L504.94,521.19 L501.54,471.27 L498.13,521.19 L485.65,521.19 L482.25,471.27 L478.84,521.19 L466.36,514.38 L461.83,464.46 L458.88,509.84 L456.15,464.46 L452.75,461.06 L450.48,464.46 L447.08,514.38 L442.54,514.38 L439.82,469.00 L439.00,469.00Z" fill="#ffcccc" stroke="#dcb4b4" stroke-width="0.8"/>
<path d="M440.00,460.18 L443.86,459.14 L447.71,457.99 L451.56,457.13 L455.42,457.48 L459.27,458.76 L463.13,460.23 L466.99,461.63 L470.84,463.00 L474.69,464.30 L478.55,465.55 L482.40,466.40 L486.26,466.74 L490.12,466.88 L493.97,467.06 L497.82,467.17 L501.68,467.57 L505.53,468.56 L509.39,470.03 L513.25,471.94 L517.10,474.73 L520.96,478.19 L524.81,481.84 L528.66,485.38 L532.52,488.90 L536.38,491.95 L540.23,494.28 L544.09,496.11 L547.94,529.80 L551.79,496.89 L555.65,495.59 L559.50,492.74 L563.36,489.05 L567.22,484.68 L571.07,479.95 L574.92,475.08 L578.78,470.28 L582.63,465.86 L586.49,461.91 L590.35,458.15 L594.20,454.61 L598.06,451.46 L601.91,448.87 L605.76,446.75 L609.62,444.86 L613.48,443.11 L617.33,442.60 L621.18,443.36 L625.04,444.79 L628.89,446.80 L632.75,449.99 L636.61,454.56 L640.46,460.29 L644.32,466.29 L648.17,472.26 L652.02,477.62 L655.88,482.73 L659.74,487.34 L663.59,490.93 L667.44,493.46 L671.30,495.44 L675.15,497.23 L679.01,498.84 L682.87,500.15 L686.72,501.29 L690.58,502.35 L694.43,503.07 L698.29,503.15 L702.14,502.66 L706.00,501.66 L709.85,466.40 L713.70,519.00 L717.56,493.41 L721.41,489.40 L725.27,485.60 L729.12,482.02 L732.98,478.65 L736.84,475.93 L740.69,474.06 L744.55,473.04 L748.40,472.49 L752.25,472.36 L756.11,472.36 L759.96,472.29 L763.82,472.08 L767.67,471.92 L771.53,471.51 L775.38,470.51 L779.24,468.70 L783.10,466.37 L786.95,463.85 L790.81,461.42 L794.66,458.87 L798.51,456.33 L802.37,454.09 L806.23,452.20 L810.08,450.69 L813.93,449.85 L817.79,449.90 L821.64,450.07" fill="none" stroke="#1a6c1a" stroke-width="2.3" stroke-linecap="round" stroke-dasharray="2.2,7.3" />
<path d="M439.00,462.19 L439.82,462.19 L442.99,473.08 L447.08,473.54 L452.07,456.52 L455.02,458.79 L458.88,469.45 L462.51,459.92 L467.50,472.40 L473.17,477.62 L477.71,475.80 L482.25,466.73 L486.79,474.67 L491.32,478.07 L496.54,475.80 L501.54,466.73 L506.07,474.67 L510.61,478.07 L516.28,474.67 L521.96,478.07 L537.84,478.07 L543.61,489.42 L547.02,529.13 L550.88,498.50 L554.96,495.09 L559.50,484.88 L562.90,489.87 L567.44,482.61 L575.38,476.26 L583.32,477.62 L590.13,476.94 L596.94,453.11 L603.75,475.80 L607.15,477.62 L610.55,475.80 L613.96,469.00 L616.23,442.90 L620.76,469.45 L624.17,470.13 L628.71,447.44 L632.21,464.46 L636.07,454.25 L640.15,469.45 L644.24,464.46 L649.23,475.80 L656.04,479.21 L662.39,489.42 L667.38,481.48 L670.79,483.07 L674.64,495.77 L679.86,481.48 L684.40,477.62 L689.62,482.16 L694.16,501.90 L698.02,503.03 L701.42,490.55 L705.50,500.76 L709.36,467.18 L713.22,518.46 L716.72,493.96 L721.26,481.48 L725.35,486.02 L729.88,479.21 L736.24,476.26 L743.50,477.62 L768.46,477.62 L774.81,470.13 L780.94,477.62 L802.50,477.62 L805.90,471.27 L809.76,453.11 L813.84,471.27 L818.38,477.62 L821.78,477.62" fill="none" stroke="#cc1414" stroke-width="1.95" stroke-linejoin="round"/>
<path d="M437.40,457.08L443.60,463.28M437.40,463.28L443.60,457.08M447.40,454.20L453.60,460.40M447.40,460.40L453.60,454.20M450.40,453.98L456.60,460.18M450.40,460.18L456.60,453.98M452.40,454.40L458.60,460.60M452.40,460.60L458.60,454.40M459.20,456.83L465.40,463.03M459.20,463.03L465.40,456.83M478.80,463.23L485.00,469.43M478.80,469.43L485.00,463.23M498.80,464.51L505.00,470.71M498.80,470.71L505.00,464.51M513.90,471.55L520.10,477.75M513.90,477.75L520.10,471.55M547.70,493.91L553.90,500.11M547.70,500.11L553.90,493.91M552.20,492.68L558.40,498.88M552.20,498.88L558.40,492.68M560.20,486.01L566.40,492.21M560.20,492.21L566.40,486.01M567.70,477.18L573.90,483.38M567.70,483.38L573.90,477.18M571.50,472.38L577.70,478.58M571.50,478.58L577.70,472.38M594.00,449.08L600.20,455.28M594.00,455.28L600.20,449.08M614.10,439.48L620.30,445.68M614.10,445.68L620.30,439.48M625.40,443.45L631.60,449.65M625.40,449.65L631.60,443.45M632.90,450.68L639.10,456.88M632.90,456.88L639.10,450.68M640.40,461.95L646.60,468.15M640.40,468.15L646.60,461.95M660.00,487.44L666.20,493.64M660.00,493.64L666.20,487.44M671.80,494.01L678.00,500.21M671.80,500.21L678.00,494.01M691.10,499.94L697.30,506.14M691.10,506.14L697.30,499.94M695.60,500.02L701.80,506.22M695.60,506.22L701.80,500.02M702.60,498.66L708.80,504.86M702.60,504.86L708.80,498.66M714.40,490.37L720.60,496.57M714.40,496.57L720.60,490.37M721.90,482.75L728.10,488.95M721.90,488.95L728.10,482.75M733.20,473.15L739.40,479.35M733.20,479.35L739.40,473.15M772.00,467.52L778.20,473.72M772.00,473.72L778.20,467.52M807.10,447.55L813.30,453.75M807.10,453.75L813.30,447.55M544.84,526.70L551.04,532.90M544.84,532.90L551.04,526.70M706.75,463.30L712.95,469.50M706.75,469.50L712.95,463.30M710.60,515.90L716.80,522.10M710.60,522.10L716.80,515.90" fill="none" stroke="#5a40b8" stroke-width="1.2"/>
</g>
<rect x="440.00" y="414.50" width="385.50" height="124.50" fill="none" stroke="#6e6e6e" stroke-width="1.75"/>
<path d="M517.10,414.50L517.10,418.50M517.10,539.00L517.10,535.00M594.20,414.50L594.20,418.50M594.20,539.00L594.20,535.00M671.30,414.50L671.30,418.50M671.30,539.00L671.30,535.00M748.40,414.50L748.40,418.50M748.40,539.00L748.40,535.00" stroke="#6e6e6e" stroke-width="1" fill="none"/></svg>

<div class="lg" style="left:34px;width:369.5px"></div>
<div class="lg" style="left:459.3px;width:346.8px"></div>
<svg class="ov" width="846" height="595">
<path d="M44.2,572.3H67.8" stroke="#006a00" stroke-width="2" stroke-dasharray="5.3,4.5"/>
<path d="M221,572.2H243.5" stroke="#0000d0" stroke-width="1.8"/>
<path d="M469.7,572.3H493.3" stroke="#006a00" stroke-width="2" stroke-dasharray="5.3,4.5"/>
<path d="M645.8,572.2H669.6" stroke="#d81818" stroke-width="1.8"/>
</svg></div>
<div id="txt"><div class="yl" style="top:71.0px">0 Outliers</div><div class="yl" style="top:205.9px">1 Outliers</div><div class="yl" style="top:340.9px">2 Outliers</div><div class="yl" style="top:475.9px">3 Outliers</div><div class="tl" style="left:26.0px">0</div><div class="tl" style="left:103.1px">20</div><div class="tl" style="left:180.2px">40</div><div class="tl" style="left:257.3px">60</div><div class="tl" style="left:334.4px">80</div><div class="tl" style="left:411.5px">100</div><div class="tl" style="left:440.0px">0</div><div class="tl" style="left:517.1px">20</div><div class="tl" style="left:594.2px">40</div><div class="tl" style="left:671.3px">60</div><div class="tl" style="left:748.4px">80</div><div class="tl" style="left:825.5px">100</div>
<div class="lt" style="left:84.6px;transform:scaleX(1.08)">Ground truth</div>
<div class="lt" style="left:261.5px;transform:scaleX(1.0)">OLAD Pred. Mean</div>
<div class="lt" style="left:509.5px;transform:scaleX(1.08)">Ground truth</div>
<div class="lt" style="left:686.2px;transform:scaleX(1.0)">GP Pred. Mean</div>
</div>
</body></html>
